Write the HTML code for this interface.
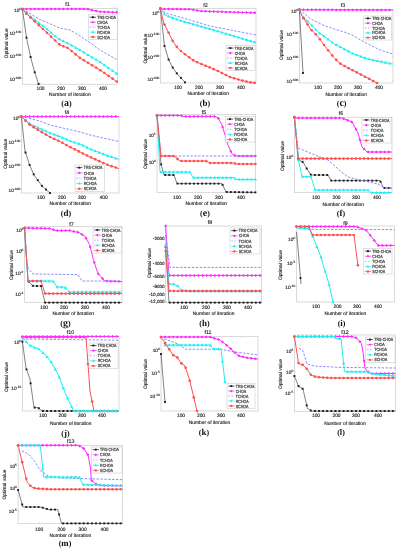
<!DOCTYPE html>
<html><head><meta charset="utf-8"><style>
html,body{margin:0;padding:0;background:#fff;width:400px;height:550px;overflow:hidden}
svg{display:block;will-change:transform}
</style></head><body>
<svg width="400" height="550" viewBox="0 0 400 550">
<rect width="400" height="550" fill="#fff"/>
<g><rect x="22.4" y="8.6" width="95" height="75.6" fill="none" stroke="#c4c4c4" stroke-width="0.6"/><path d="M40.5 84.2v-1.2M40.5 8.6v1.2" stroke="#c4c4c4" stroke-width="0.5"/><text x="0" y="0" transform="translate(40.5 90.1) skewX(0.3)" font-size="4.9" fill="#111" text-anchor="middle" style="font-family:'Liberation Sans',sans-serif;stroke:#222;stroke-width:0.12px">100</text><path d="M61 84.2v-1.2M61 8.6v1.2" stroke="#c4c4c4" stroke-width="0.5"/><text x="0" y="0" transform="translate(61 90.1) skewX(0.3)" font-size="4.9" fill="#111" text-anchor="middle" style="font-family:'Liberation Sans',sans-serif;stroke:#222;stroke-width:0.12px">200</text><path d="M82 84.2v-1.2M82 8.6v1.2" stroke="#c4c4c4" stroke-width="0.5"/><text x="0" y="0" transform="translate(82 90.1) skewX(0.3)" font-size="4.9" fill="#111" text-anchor="middle" style="font-family:'Liberation Sans',sans-serif;stroke:#222;stroke-width:0.12px">300</text><path d="M103 84.2v-1.2M103 8.6v1.2" stroke="#c4c4c4" stroke-width="0.5"/><text x="0" y="0" transform="translate(103 90.1) skewX(0.3)" font-size="4.9" fill="#111" text-anchor="middle" style="font-family:'Liberation Sans',sans-serif;stroke:#222;stroke-width:0.12px">400</text><path d="M22.4 9h1.2M117.4 9h-1.2" stroke="#c4c4c4" stroke-width="0.5"/><text x="0" y="0" transform="translate(21.2 11.5) skewX(0.3)" font-size="4.8" fill="#111" text-anchor="end" style="font-family:'Liberation Sans',sans-serif;stroke:#222;stroke-width:0.12px">10<tspan font-size="3.2" dy="-2">0</tspan></text><path d="M22.4 32.4h1.2M117.4 32.4h-1.2" stroke="#c4c4c4" stroke-width="0.5"/><text x="0" y="0" transform="translate(21.2 34.9) skewX(0.3)" font-size="4.8" fill="#111" text-anchor="end" style="font-family:'Liberation Sans',sans-serif;stroke:#222;stroke-width:0.12px">10<tspan font-size="3.2" dy="-2">-100</tspan></text><path d="M22.4 55.6h1.2M117.4 55.6h-1.2" stroke="#c4c4c4" stroke-width="0.5"/><text x="0" y="0" transform="translate(21.2 58.1) skewX(0.3)" font-size="4.8" fill="#111" text-anchor="end" style="font-family:'Liberation Sans',sans-serif;stroke:#222;stroke-width:0.12px">10<tspan font-size="3.2" dy="-2">-200</tspan></text><path d="M22.4 78.6h1.2M117.4 78.6h-1.2" stroke="#c4c4c4" stroke-width="0.5"/><text x="0" y="0" transform="translate(21.2 81.1) skewX(0.3)" font-size="4.8" fill="#111" text-anchor="end" style="font-family:'Liberation Sans',sans-serif;stroke:#222;stroke-width:0.12px">10<tspan font-size="3.2" dy="-2">-300</tspan></text><text x="0" y="0" transform="translate(67.4 6.3) skewX(0.3)" font-size="5.4" fill="#222" text-anchor="middle" style="font-family:'Liberation Sans',sans-serif;stroke:#222;stroke-width:0.12px">f1</text><text x="0" y="0" transform="translate(69.9 96.4) skewX(0.3)" font-size="4.9" fill="#111" text-anchor="middle" style="font-family:'Liberation Sans',sans-serif;stroke:#222;stroke-width:0.12px">Number of iteration</text><text x="0" y="0" font-size="4.9" fill="#111" text-anchor="middle" style="font-family:'Liberation Sans',sans-serif;stroke:#222;stroke-width:0.12px" transform="translate(8.3 43.2) rotate(-90) skewX(0.3)">Optimal value</text><polyline points="22.4,9 26.6,38.4 30.6,57 34.4,71.4 38.6,84" fill="none" stroke="#1a1a1a" stroke-width="0.55"/><rect x="21.45" y="8.05" width="1.9" height="1.9" fill="#1a1a1a"/><rect x="25.55" y="36.75" width="1.9" height="1.9" fill="#1a1a1a"/><rect x="29.65" y="56.05" width="1.9" height="1.9" fill="#1a1a1a"/><rect x="33.75" y="71.35" width="1.9" height="1.9" fill="#1a1a1a"/><rect x="37.65" y="83.05" width="1.9" height="1.9" fill="#1a1a1a"/><polyline points="22.4,9 88,9 93,10.4 101,11.8 117.4,12.4" fill="none" stroke="#ff2bff" stroke-width="1.0"/><path d="M22.4 7.5l1.55 1.5l-1.55 1.5l-1.55 -1.5z" fill="#ff2bff"/><path d="M26.5 7.5l1.55 1.5l-1.55 1.5l-1.55 -1.5z" fill="#ff2bff"/><path d="M30.6 7.5l1.55 1.5l-1.55 1.5l-1.55 -1.5z" fill="#ff2bff"/><path d="M34.7 7.5l1.55 1.5l-1.55 1.5l-1.55 -1.5z" fill="#ff2bff"/><path d="M38.8 7.5l1.55 1.5l-1.55 1.5l-1.55 -1.5z" fill="#ff2bff"/><path d="M42.9 7.5l1.55 1.5l-1.55 1.5l-1.55 -1.5z" fill="#ff2bff"/><path d="M47 7.5l1.55 1.5l-1.55 1.5l-1.55 -1.5z" fill="#ff2bff"/><path d="M51.1 7.5l1.55 1.5l-1.55 1.5l-1.55 -1.5z" fill="#ff2bff"/><path d="M55.2 7.5l1.55 1.5l-1.55 1.5l-1.55 -1.5z" fill="#ff2bff"/><path d="M59.3 7.5l1.55 1.5l-1.55 1.5l-1.55 -1.5z" fill="#ff2bff"/><path d="M63.4 7.5l1.55 1.5l-1.55 1.5l-1.55 -1.5z" fill="#ff2bff"/><path d="M67.5 7.5l1.55 1.5l-1.55 1.5l-1.55 -1.5z" fill="#ff2bff"/><path d="M71.6 7.5l1.55 1.5l-1.55 1.5l-1.55 -1.5z" fill="#ff2bff"/><path d="M75.7 7.5l1.55 1.5l-1.55 1.5l-1.55 -1.5z" fill="#ff2bff"/><path d="M79.8 7.5l1.55 1.5l-1.55 1.5l-1.55 -1.5z" fill="#ff2bff"/><path d="M83.9 7.5l1.55 1.5l-1.55 1.5l-1.55 -1.5z" fill="#ff2bff"/><path d="M88 7.5l1.55 1.5l-1.55 1.5l-1.55 -1.5z" fill="#ff2bff"/><path d="M92.1 8.65l1.55 1.5l-1.55 1.5l-1.55 -1.5z" fill="#ff2bff"/><path d="M96.2 9.46l1.55 1.5l-1.55 1.5l-1.55 -1.5z" fill="#ff2bff"/><path d="M100.3 10.18l1.55 1.5l-1.55 1.5l-1.55 -1.5z" fill="#ff2bff"/><path d="M104.4 10.42l1.55 1.5l-1.55 1.5l-1.55 -1.5z" fill="#ff2bff"/><path d="M108.5 10.57l1.55 1.5l-1.55 1.5l-1.55 -1.5z" fill="#ff2bff"/><path d="M112.6 10.72l1.55 1.5l-1.55 1.5l-1.55 -1.5z" fill="#ff2bff"/><path d="M116.7 10.87l1.55 1.5l-1.55 1.5l-1.55 -1.5z" fill="#ff2bff"/><polyline points="22.4,9 28,12.4 40,19.5 60,28 70,30 80,36 86,40 100,50 117.4,60" fill="none" stroke="#8a8aff" stroke-width="1.0" stroke-dasharray="2.4 1.5"/><polyline points="22.4,9 26,13.5 32.5,18.1 45,27.5 57.5,38.1 66,42.5 70,44.4 80,50 100,62 117.4,74" fill="none" stroke="#22eef2" stroke-width="1.0"/><path d="M22.4 7.35l1.65 2.8h-3.3z" fill="#22eef2"/><path d="M26.5 12.2l1.65 2.8h-3.3z" fill="#22eef2"/><path d="M30.6 15.11l1.65 2.8h-3.3z" fill="#22eef2"/><path d="M34.7 18.1l1.65 2.8h-3.3z" fill="#22eef2"/><path d="M38.8 21.19l1.65 2.8h-3.3z" fill="#22eef2"/><path d="M42.9 24.27l1.65 2.8h-3.3z" fill="#22eef2"/><path d="M47 27.55l1.65 2.8h-3.3z" fill="#22eef2"/><path d="M51.1 31.02l1.65 2.8h-3.3z" fill="#22eef2"/><path d="M55.2 34.5l1.65 2.8h-3.3z" fill="#22eef2"/><path d="M59.3 37.38l1.65 2.8h-3.3z" fill="#22eef2"/><path d="M63.4 39.5l1.65 2.8h-3.3z" fill="#22eef2"/><path d="M67.5 41.56l1.65 2.8h-3.3z" fill="#22eef2"/><path d="M71.6 43.65l1.65 2.8h-3.3z" fill="#22eef2"/><path d="M75.7 45.94l1.65 2.8h-3.3z" fill="#22eef2"/><path d="M79.8 48.24l1.65 2.8h-3.3z" fill="#22eef2"/><path d="M83.9 50.69l1.65 2.8h-3.3z" fill="#22eef2"/><path d="M88 53.15l1.65 2.8h-3.3z" fill="#22eef2"/><path d="M92.1 55.61l1.65 2.8h-3.3z" fill="#22eef2"/><path d="M96.2 58.07l1.65 2.8h-3.3z" fill="#22eef2"/><path d="M100.3 60.56l1.65 2.8h-3.3z" fill="#22eef2"/><path d="M104.4 63.38l1.65 2.8h-3.3z" fill="#22eef2"/><path d="M108.5 66.21l1.65 2.8h-3.3z" fill="#22eef2"/><path d="M112.6 69.04l1.65 2.8h-3.3z" fill="#22eef2"/><path d="M116.7 71.87l1.65 2.8h-3.3z" fill="#22eef2"/><polyline points="22.4,9 30,17 44,30 60,45 68,48 80,58 100,70 117.4,82" fill="none" stroke="#ff5050" stroke-width="1.0"/><circle cx="22.4" cy="9" r="1.32" fill="#ff5050"/><circle cx="26.5" cy="13.32" r="1.32" fill="#ff5050"/><circle cx="30.6" cy="17.56" r="1.32" fill="#ff5050"/><circle cx="34.7" cy="21.36" r="1.32" fill="#ff5050"/><circle cx="38.8" cy="25.17" r="1.32" fill="#ff5050"/><circle cx="42.9" cy="28.98" r="1.32" fill="#ff5050"/><circle cx="47" cy="32.81" r="1.32" fill="#ff5050"/><circle cx="51.1" cy="36.66" r="1.32" fill="#ff5050"/><circle cx="55.2" cy="40.5" r="1.32" fill="#ff5050"/><circle cx="59.3" cy="44.34" r="1.32" fill="#ff5050"/><circle cx="63.4" cy="46.28" r="1.32" fill="#ff5050"/><circle cx="67.5" cy="47.81" r="1.32" fill="#ff5050"/><circle cx="71.6" cy="51" r="1.32" fill="#ff5050"/><circle cx="75.7" cy="54.42" r="1.32" fill="#ff5050"/><circle cx="79.8" cy="57.83" r="1.32" fill="#ff5050"/><circle cx="83.9" cy="60.34" r="1.32" fill="#ff5050"/><circle cx="88" cy="62.8" r="1.32" fill="#ff5050"/><circle cx="92.1" cy="65.26" r="1.32" fill="#ff5050"/><circle cx="96.2" cy="67.72" r="1.32" fill="#ff5050"/><circle cx="100.3" cy="70.21" r="1.32" fill="#ff5050"/><circle cx="104.4" cy="73.03" r="1.32" fill="#ff5050"/><circle cx="108.5" cy="75.86" r="1.32" fill="#ff5050"/><circle cx="112.6" cy="78.69" r="1.32" fill="#ff5050"/><circle cx="116.7" cy="81.52" r="1.32" fill="#ff5050"/><rect x="88.5" y="14.8" width="28.7" height="24.7" fill="#fff" stroke="#c4c4c4" stroke-width="0.5"/><line x1="89.7" y1="17.27" x2="96" y2="17.27" stroke="#1a1a1a" stroke-width="0.7"/><rect x="91.9" y="16.32" width="1.9" height="1.9" fill="#1a1a1a"/><text x="0" y="0" transform="translate(97.2 18.87) scale(0.82 1) skewX(0.3)" font-size="4.4" fill="#222" style="font-family:'Liberation Sans',sans-serif;stroke:#444;stroke-width:0.22px">TRS-CHOA</text><line x1="89.7" y1="22.21" x2="96" y2="22.21" stroke="#ff2bff" stroke-width="0.7"/><path d="M92.85 20.86l1.4 1.35l-1.4 1.35l-1.4 -1.35z" fill="#ff2bff"/><text x="0" y="0" transform="translate(97.2 23.81) scale(0.82 1) skewX(0.3)" font-size="4.4" fill="#222" style="font-family:'Liberation Sans',sans-serif;stroke:#444;stroke-width:0.22px">CHOA</text><line x1="89.7" y1="27.15" x2="96" y2="27.15" stroke="#8a8aff" stroke-width="0.7" stroke-dasharray="1.6 1.4"/><text x="0" y="0" transform="translate(97.2 28.75) scale(0.82 1) skewX(0.3)" font-size="4.4" fill="#222" style="font-family:'Liberation Sans',sans-serif;stroke:#444;stroke-width:0.22px">TCHOA</text><line x1="89.7" y1="32.09" x2="96" y2="32.09" stroke="#22eef2" stroke-width="0.7"/><path d="M92.85 30.61l1.48 2.52h-2.97z" fill="#22eef2"/><text x="0" y="0" transform="translate(97.2 33.69) scale(0.82 1) skewX(0.3)" font-size="4.4" fill="#222" style="font-family:'Liberation Sans',sans-serif;stroke:#444;stroke-width:0.22px">RCHOA</text><line x1="89.7" y1="37.03" x2="96" y2="37.03" stroke="#ff5050" stroke-width="0.7"/><circle cx="92.85" cy="37.03" r="1.19" fill="#ff5050"/><text x="0" y="0" transform="translate(97.2 38.63) scale(0.82 1) skewX(0.3)" font-size="4.4" fill="#222" style="font-family:'Liberation Sans',sans-serif;stroke:#444;stroke-width:0.22px">SCHOA</text><text x="0" y="0" transform="translate(66.4 106.2) skewX(0.3)" font-size="8.0" fill="#111" text-anchor="middle" font-weight="bold" style="font-family:'Liberation Serif',serif">(<tspan font-size="10">a</tspan>)</text></g>
<g><rect x="160.4" y="8.4" width="95.6" height="74.6" fill="none" stroke="#c4c4c4" stroke-width="0.6"/><path d="M178 83v-1.2M178 8.4v1.2" stroke="#c4c4c4" stroke-width="0.5"/><text x="0" y="0" transform="translate(178 88.9) skewX(0.3)" font-size="4.9" fill="#111" text-anchor="middle" style="font-family:'Liberation Sans',sans-serif;stroke:#222;stroke-width:0.12px">100</text><path d="M199 83v-1.2M199 8.4v1.2" stroke="#c4c4c4" stroke-width="0.5"/><text x="0" y="0" transform="translate(199 88.9) skewX(0.3)" font-size="4.9" fill="#111" text-anchor="middle" style="font-family:'Liberation Sans',sans-serif;stroke:#222;stroke-width:0.12px">200</text><path d="M220 83v-1.2M220 8.4v1.2" stroke="#c4c4c4" stroke-width="0.5"/><text x="0" y="0" transform="translate(220 88.9) skewX(0.3)" font-size="4.9" fill="#111" text-anchor="middle" style="font-family:'Liberation Sans',sans-serif;stroke:#222;stroke-width:0.12px">300</text><path d="M241 83v-1.2M241 8.4v1.2" stroke="#c4c4c4" stroke-width="0.5"/><text x="0" y="0" transform="translate(241 88.9) skewX(0.3)" font-size="4.9" fill="#111" text-anchor="middle" style="font-family:'Liberation Sans',sans-serif;stroke:#222;stroke-width:0.12px">400</text><path d="M160.4 12h1.2M256 12h-1.2" stroke="#c4c4c4" stroke-width="0.5"/><text x="0" y="0" transform="translate(159.2 14.5) skewX(0.3)" font-size="4.8" fill="#111" text-anchor="end" style="font-family:'Liberation Sans',sans-serif;stroke:#222;stroke-width:0.12px">10<tspan font-size="3.2" dy="-2">0</tspan></text><path d="M160.4 34h1.2M256 34h-1.2" stroke="#c4c4c4" stroke-width="0.5"/><text x="0" y="0" transform="translate(159.2 36.5) skewX(0.3)" font-size="4.8" fill="#111" text-anchor="end" style="font-family:'Liberation Sans',sans-serif;stroke:#222;stroke-width:0.12px">10<tspan font-size="3.2" dy="-2">-100</tspan></text><path d="M160.4 56h1.2M256 56h-1.2" stroke="#c4c4c4" stroke-width="0.5"/><text x="0" y="0" transform="translate(159.2 58.5) skewX(0.3)" font-size="4.8" fill="#111" text-anchor="end" style="font-family:'Liberation Sans',sans-serif;stroke:#222;stroke-width:0.12px">10<tspan font-size="3.2" dy="-2">-200</tspan></text><path d="M160.4 78h1.2M256 78h-1.2" stroke="#c4c4c4" stroke-width="0.5"/><text x="0" y="0" transform="translate(159.2 80.5) skewX(0.3)" font-size="4.8" fill="#111" text-anchor="end" style="font-family:'Liberation Sans',sans-serif;stroke:#222;stroke-width:0.12px">10<tspan font-size="3.2" dy="-2">-300</tspan></text><text x="0" y="0" transform="translate(205.4 6.5) skewX(0.3)" font-size="5.4" fill="#222" text-anchor="middle" style="font-family:'Liberation Sans',sans-serif;stroke:#222;stroke-width:0.12px">f2</text><text x="0" y="0" transform="translate(208.2 95.2) skewX(0.3)" font-size="4.9" fill="#111" text-anchor="middle" style="font-family:'Liberation Sans',sans-serif;stroke:#222;stroke-width:0.12px">Number of iteration</text><text x="0" y="0" font-size="4.9" fill="#111" text-anchor="middle" style="font-family:'Liberation Sans',sans-serif;stroke:#222;stroke-width:0.12px" transform="translate(147 48.6) rotate(-90) skewX(0.3)">Optimal value</text><polyline points="160.4,8.4 164.4,45.6 168.6,59.6 172.6,67.4 177,73.6 181,78 185.6,83" fill="none" stroke="#1a1a1a" stroke-width="0.55"/><rect x="159.45" y="7.45" width="1.9" height="1.9" fill="#1a1a1a"/><rect x="163.55" y="44.98" width="1.9" height="1.9" fill="#1a1a1a"/><rect x="167.65" y="58.65" width="1.9" height="1.9" fill="#1a1a1a"/><rect x="171.75" y="66.59" width="1.9" height="1.9" fill="#1a1a1a"/><rect x="175.85" y="72.37" width="1.9" height="1.9" fill="#1a1a1a"/><rect x="179.95" y="76.94" width="1.9" height="1.9" fill="#1a1a1a"/><rect x="184.05" y="81.4" width="1.9" height="1.9" fill="#1a1a1a"/><polyline points="160.4,9 191,9.2 200,11 220,11.8 256,12.8" fill="none" stroke="#ff2bff" stroke-width="1.0"/><path d="M160.4 7.5l1.55 1.5l-1.55 1.5l-1.55 -1.5z" fill="#ff2bff"/><path d="M164.5 7.53l1.55 1.5l-1.55 1.5l-1.55 -1.5z" fill="#ff2bff"/><path d="M168.6 7.55l1.55 1.5l-1.55 1.5l-1.55 -1.5z" fill="#ff2bff"/><path d="M172.7 7.58l1.55 1.5l-1.55 1.5l-1.55 -1.5z" fill="#ff2bff"/><path d="M176.8 7.61l1.55 1.5l-1.55 1.5l-1.55 -1.5z" fill="#ff2bff"/><path d="M180.9 7.63l1.55 1.5l-1.55 1.5l-1.55 -1.5z" fill="#ff2bff"/><path d="M185 7.66l1.55 1.5l-1.55 1.5l-1.55 -1.5z" fill="#ff2bff"/><path d="M189.1 7.69l1.55 1.5l-1.55 1.5l-1.55 -1.5z" fill="#ff2bff"/><path d="M193.2 8.14l1.55 1.5l-1.55 1.5l-1.55 -1.5z" fill="#ff2bff"/><path d="M197.3 8.96l1.55 1.5l-1.55 1.5l-1.55 -1.5z" fill="#ff2bff"/><path d="M201.4 9.56l1.55 1.5l-1.55 1.5l-1.55 -1.5z" fill="#ff2bff"/><path d="M205.5 9.72l1.55 1.5l-1.55 1.5l-1.55 -1.5z" fill="#ff2bff"/><path d="M209.6 9.88l1.55 1.5l-1.55 1.5l-1.55 -1.5z" fill="#ff2bff"/><path d="M213.7 10.05l1.55 1.5l-1.55 1.5l-1.55 -1.5z" fill="#ff2bff"/><path d="M217.8 10.21l1.55 1.5l-1.55 1.5l-1.55 -1.5z" fill="#ff2bff"/><path d="M221.9 10.35l1.55 1.5l-1.55 1.5l-1.55 -1.5z" fill="#ff2bff"/><path d="M226 10.47l1.55 1.5l-1.55 1.5l-1.55 -1.5z" fill="#ff2bff"/><path d="M230.1 10.58l1.55 1.5l-1.55 1.5l-1.55 -1.5z" fill="#ff2bff"/><path d="M234.2 10.69l1.55 1.5l-1.55 1.5l-1.55 -1.5z" fill="#ff2bff"/><path d="M238.3 10.81l1.55 1.5l-1.55 1.5l-1.55 -1.5z" fill="#ff2bff"/><path d="M242.4 10.92l1.55 1.5l-1.55 1.5l-1.55 -1.5z" fill="#ff2bff"/><path d="M246.5 11.04l1.55 1.5l-1.55 1.5l-1.55 -1.5z" fill="#ff2bff"/><path d="M250.6 11.15l1.55 1.5l-1.55 1.5l-1.55 -1.5z" fill="#ff2bff"/><path d="M254.7 11.26l1.55 1.5l-1.55 1.5l-1.55 -1.5z" fill="#ff2bff"/><polyline points="160.4,8.4 165.3,13 190,20 210,26 256,35" fill="none" stroke="#8a8aff" stroke-width="1.0" stroke-dasharray="2.4 1.5"/><polyline points="160.4,8.4 165.3,15.2 179.8,20.3 194.4,24.6 208,28.3 256,42.6" fill="none" stroke="#22eef2" stroke-width="1.0"/><path d="M160.4 6.75l1.65 2.8h-3.3z" fill="#22eef2"/><path d="M164.5 12.44l1.65 2.8h-3.3z" fill="#22eef2"/><path d="M168.6 14.71l1.65 2.8h-3.3z" fill="#22eef2"/><path d="M172.7 16.15l1.65 2.8h-3.3z" fill="#22eef2"/><path d="M176.8 17.59l1.65 2.8h-3.3z" fill="#22eef2"/><path d="M180.9 18.97l1.65 2.8h-3.3z" fill="#22eef2"/><path d="M185 20.18l1.65 2.8h-3.3z" fill="#22eef2"/><path d="M189.1 21.39l1.65 2.8h-3.3z" fill="#22eef2"/><path d="M193.2 22.6l1.65 2.8h-3.3z" fill="#22eef2"/><path d="M197.3 23.74l1.65 2.8h-3.3z" fill="#22eef2"/><path d="M201.4 24.85l1.65 2.8h-3.3z" fill="#22eef2"/><path d="M205.5 25.97l1.65 2.8h-3.3z" fill="#22eef2"/><path d="M209.6 27.13l1.65 2.8h-3.3z" fill="#22eef2"/><path d="M213.7 28.35l1.65 2.8h-3.3z" fill="#22eef2"/><path d="M217.8 29.57l1.65 2.8h-3.3z" fill="#22eef2"/><path d="M221.9 30.79l1.65 2.8h-3.3z" fill="#22eef2"/><path d="M226 32.01l1.65 2.8h-3.3z" fill="#22eef2"/><path d="M230.1 33.23l1.65 2.8h-3.3z" fill="#22eef2"/><path d="M234.2 34.46l1.65 2.8h-3.3z" fill="#22eef2"/><path d="M238.3 35.68l1.65 2.8h-3.3z" fill="#22eef2"/><path d="M242.4 36.9l1.65 2.8h-3.3z" fill="#22eef2"/><path d="M246.5 38.12l1.65 2.8h-3.3z" fill="#22eef2"/><path d="M250.6 39.34l1.65 2.8h-3.3z" fill="#22eef2"/><path d="M254.7 40.56l1.65 2.8h-3.3z" fill="#22eef2"/><polyline points="160.4,8.4 162,16 163.8,23.2 168.2,31.9 172.5,40.6 176,46 179.8,50.1 187.1,55.9 194.4,61 200,63.5 210,67.5 220,72 230,77 240,80 248,82 256,83" fill="none" stroke="#ff5050" stroke-width="1.0"/><circle cx="160.4" cy="8.4" r="1.32" fill="#ff5050"/><circle cx="164.5" cy="24.58" r="1.32" fill="#ff5050"/><circle cx="168.6" cy="32.71" r="1.32" fill="#ff5050"/><circle cx="172.7" cy="40.91" r="1.32" fill="#ff5050"/><circle cx="176.8" cy="46.86" r="1.32" fill="#ff5050"/><circle cx="180.9" cy="50.97" r="1.32" fill="#ff5050"/><circle cx="185" cy="54.23" r="1.32" fill="#ff5050"/><circle cx="189.1" cy="57.3" r="1.32" fill="#ff5050"/><circle cx="193.2" cy="60.16" r="1.32" fill="#ff5050"/><circle cx="197.3" cy="62.29" r="1.32" fill="#ff5050"/><circle cx="201.4" cy="64.06" r="1.32" fill="#ff5050"/><circle cx="205.5" cy="65.7" r="1.32" fill="#ff5050"/><circle cx="209.6" cy="67.34" r="1.32" fill="#ff5050"/><circle cx="213.7" cy="69.16" r="1.32" fill="#ff5050"/><circle cx="217.8" cy="71.01" r="1.32" fill="#ff5050"/><circle cx="221.9" cy="72.95" r="1.32" fill="#ff5050"/><circle cx="226" cy="75" r="1.32" fill="#ff5050"/><circle cx="230.1" cy="77.03" r="1.32" fill="#ff5050"/><circle cx="234.2" cy="78.26" r="1.32" fill="#ff5050"/><circle cx="238.3" cy="79.49" r="1.32" fill="#ff5050"/><circle cx="242.4" cy="80.6" r="1.32" fill="#ff5050"/><circle cx="246.5" cy="81.62" r="1.32" fill="#ff5050"/><circle cx="250.6" cy="82.32" r="1.32" fill="#ff5050"/><circle cx="254.7" cy="82.84" r="1.32" fill="#ff5050"/><rect x="226" y="45.6" width="29" height="24.8" fill="#fff" stroke="#c4c4c4" stroke-width="0.5"/><line x1="227.2" y1="48.08" x2="233.5" y2="48.08" stroke="#1a1a1a" stroke-width="0.7"/><rect x="229.4" y="47.13" width="1.9" height="1.9" fill="#1a1a1a"/><text x="0" y="0" transform="translate(234.7 49.68) scale(0.82 1) skewX(0.3)" font-size="4.4" fill="#222" style="font-family:'Liberation Sans',sans-serif;stroke:#444;stroke-width:0.22px">TRS-CHOA</text><line x1="227.2" y1="53.04" x2="233.5" y2="53.04" stroke="#ff2bff" stroke-width="0.7"/><path d="M230.35 51.69l1.4 1.35l-1.4 1.35l-1.4 -1.35z" fill="#ff2bff"/><text x="0" y="0" transform="translate(234.7 54.64) scale(0.82 1) skewX(0.3)" font-size="4.4" fill="#222" style="font-family:'Liberation Sans',sans-serif;stroke:#444;stroke-width:0.22px">CHOA</text><line x1="227.2" y1="58" x2="233.5" y2="58" stroke="#8a8aff" stroke-width="0.7" stroke-dasharray="1.6 1.4"/><text x="0" y="0" transform="translate(234.7 59.6) scale(0.82 1) skewX(0.3)" font-size="4.4" fill="#222" style="font-family:'Liberation Sans',sans-serif;stroke:#444;stroke-width:0.22px">TCHOA</text><line x1="227.2" y1="62.96" x2="233.5" y2="62.96" stroke="#22eef2" stroke-width="0.7"/><path d="M230.35 61.48l1.48 2.52h-2.97z" fill="#22eef2"/><text x="0" y="0" transform="translate(234.7 64.56) scale(0.82 1) skewX(0.3)" font-size="4.4" fill="#222" style="font-family:'Liberation Sans',sans-serif;stroke:#444;stroke-width:0.22px">RCHOA</text><line x1="227.2" y1="67.92" x2="233.5" y2="67.92" stroke="#ff5050" stroke-width="0.7"/><circle cx="230.35" cy="67.92" r="1.19" fill="#ff5050"/><text x="0" y="0" transform="translate(234.7 69.52) scale(0.82 1) skewX(0.3)" font-size="4.4" fill="#222" style="font-family:'Liberation Sans',sans-serif;stroke:#444;stroke-width:0.22px">SCHOA</text><text x="0" y="0" transform="translate(205 106.2) skewX(0.3)" font-size="8.0" fill="#111" text-anchor="middle" font-weight="bold" style="font-family:'Liberation Serif',serif">(<tspan font-size="9">b</tspan>)</text></g>
<g><rect x="299.4" y="9.4" width="93.6" height="73.6" fill="none" stroke="#c4c4c4" stroke-width="0.6"/><path d="M318 83v-1.2M318 9.4v1.2" stroke="#c4c4c4" stroke-width="0.5"/><text x="0" y="0" transform="translate(318 88.9) skewX(0.3)" font-size="4.9" fill="#111" text-anchor="middle" style="font-family:'Liberation Sans',sans-serif;stroke:#222;stroke-width:0.12px">100</text><path d="M338 83v-1.2M338 9.4v1.2" stroke="#c4c4c4" stroke-width="0.5"/><text x="0" y="0" transform="translate(338 88.9) skewX(0.3)" font-size="4.9" fill="#111" text-anchor="middle" style="font-family:'Liberation Sans',sans-serif;stroke:#222;stroke-width:0.12px">200</text><path d="M358 83v-1.2M358 9.4v1.2" stroke="#c4c4c4" stroke-width="0.5"/><text x="0" y="0" transform="translate(358 88.9) skewX(0.3)" font-size="4.9" fill="#111" text-anchor="middle" style="font-family:'Liberation Sans',sans-serif;stroke:#222;stroke-width:0.12px">300</text><path d="M379 83v-1.2M379 9.4v1.2" stroke="#c4c4c4" stroke-width="0.5"/><text x="0" y="0" transform="translate(379 88.9) skewX(0.3)" font-size="4.9" fill="#111" text-anchor="middle" style="font-family:'Liberation Sans',sans-serif;stroke:#222;stroke-width:0.12px">400</text><path d="M299.4 10h1.2M393 10h-1.2" stroke="#c4c4c4" stroke-width="0.5"/><text x="0" y="0" transform="translate(298.2 12.5) skewX(0.3)" font-size="4.8" fill="#111" text-anchor="end" style="font-family:'Liberation Sans',sans-serif;stroke:#222;stroke-width:0.12px">10<tspan font-size="3.2" dy="-2">0</tspan></text><path d="M299.4 33.6h1.2M393 33.6h-1.2" stroke="#c4c4c4" stroke-width="0.5"/><text x="0" y="0" transform="translate(298.2 36.1) skewX(0.3)" font-size="4.8" fill="#111" text-anchor="end" style="font-family:'Liberation Sans',sans-serif;stroke:#222;stroke-width:0.12px">10<tspan font-size="3.2" dy="-2">-100</tspan></text><path d="M299.4 57.2h1.2M393 57.2h-1.2" stroke="#c4c4c4" stroke-width="0.5"/><text x="0" y="0" transform="translate(298.2 59.7) skewX(0.3)" font-size="4.8" fill="#111" text-anchor="end" style="font-family:'Liberation Sans',sans-serif;stroke:#222;stroke-width:0.12px">10<tspan font-size="3.2" dy="-2">-200</tspan></text><path d="M299.4 80.6h1.2M393 80.6h-1.2" stroke="#c4c4c4" stroke-width="0.5"/><text x="0" y="0" transform="translate(298.2 83.1) skewX(0.3)" font-size="4.8" fill="#111" text-anchor="end" style="font-family:'Liberation Sans',sans-serif;stroke:#222;stroke-width:0.12px">10<tspan font-size="3.2" dy="-2">-300</tspan></text><text x="0" y="0" transform="translate(343 7.4) skewX(0.3)" font-size="5.4" fill="#222" text-anchor="middle" style="font-family:'Liberation Sans',sans-serif;stroke:#222;stroke-width:0.12px">f3</text><text x="0" y="0" transform="translate(346.2 96) skewX(0.3)" font-size="4.9" fill="#111" text-anchor="middle" style="font-family:'Liberation Sans',sans-serif;stroke:#222;stroke-width:0.12px">Number of iteration</text><text x="0" y="0" font-size="4.9" fill="#111" text-anchor="middle" style="font-family:'Liberation Sans',sans-serif;stroke:#222;stroke-width:0.12px" transform="translate(282.7 45) rotate(-90) skewX(0.3)">Optimal value</text><polyline points="299.4,9.6 303,73" fill="none" stroke="#1a1a1a" stroke-width="0.55"/><rect x="298.45" y="8.65" width="1.9" height="1.9" fill="#1a1a1a"/><rect x="302.05" y="72.05" width="1.9" height="1.9" fill="#1a1a1a"/><polyline points="299.4,9.8 393,10" fill="none" stroke="#ff2bff" stroke-width="1.0"/><path d="M299.4 8.3l1.55 1.5l-1.55 1.5l-1.55 -1.5z" fill="#ff2bff"/><path d="M303.5 8.31l1.55 1.5l-1.55 1.5l-1.55 -1.5z" fill="#ff2bff"/><path d="M307.6 8.32l1.55 1.5l-1.55 1.5l-1.55 -1.5z" fill="#ff2bff"/><path d="M311.7 8.33l1.55 1.5l-1.55 1.5l-1.55 -1.5z" fill="#ff2bff"/><path d="M315.8 8.34l1.55 1.5l-1.55 1.5l-1.55 -1.5z" fill="#ff2bff"/><path d="M319.9 8.34l1.55 1.5l-1.55 1.5l-1.55 -1.5z" fill="#ff2bff"/><path d="M324 8.35l1.55 1.5l-1.55 1.5l-1.55 -1.5z" fill="#ff2bff"/><path d="M328.1 8.36l1.55 1.5l-1.55 1.5l-1.55 -1.5z" fill="#ff2bff"/><path d="M332.2 8.37l1.55 1.5l-1.55 1.5l-1.55 -1.5z" fill="#ff2bff"/><path d="M336.3 8.38l1.55 1.5l-1.55 1.5l-1.55 -1.5z" fill="#ff2bff"/><path d="M340.4 8.39l1.55 1.5l-1.55 1.5l-1.55 -1.5z" fill="#ff2bff"/><path d="M344.5 8.4l1.55 1.5l-1.55 1.5l-1.55 -1.5z" fill="#ff2bff"/><path d="M348.6 8.41l1.55 1.5l-1.55 1.5l-1.55 -1.5z" fill="#ff2bff"/><path d="M352.7 8.41l1.55 1.5l-1.55 1.5l-1.55 -1.5z" fill="#ff2bff"/><path d="M356.8 8.42l1.55 1.5l-1.55 1.5l-1.55 -1.5z" fill="#ff2bff"/><path d="M360.9 8.43l1.55 1.5l-1.55 1.5l-1.55 -1.5z" fill="#ff2bff"/><path d="M365 8.44l1.55 1.5l-1.55 1.5l-1.55 -1.5z" fill="#ff2bff"/><path d="M369.1 8.45l1.55 1.5l-1.55 1.5l-1.55 -1.5z" fill="#ff2bff"/><path d="M373.2 8.46l1.55 1.5l-1.55 1.5l-1.55 -1.5z" fill="#ff2bff"/><path d="M377.3 8.47l1.55 1.5l-1.55 1.5l-1.55 -1.5z" fill="#ff2bff"/><path d="M381.4 8.48l1.55 1.5l-1.55 1.5l-1.55 -1.5z" fill="#ff2bff"/><path d="M385.5 8.48l1.55 1.5l-1.55 1.5l-1.55 -1.5z" fill="#ff2bff"/><path d="M389.6 8.49l1.55 1.5l-1.55 1.5l-1.55 -1.5z" fill="#ff2bff"/><polyline points="299.4,9.6 310.5,18.8 325.1,26.1 346,32.6 352,35 364,42 380,50 393,54" fill="none" stroke="#8a8aff" stroke-width="1.0" stroke-dasharray="2.4 1.5"/><polyline points="299.4,9.6 301.8,15.9 310.5,23.9 317.8,31.9 325.1,37 333.8,43.5 339.6,46.5 354,54.1 368,59 382,61.8 393,64" fill="none" stroke="#22eef2" stroke-width="1.0"/><path d="M299.4 7.95l1.65 2.8h-3.3z" fill="#22eef2"/><path d="M303.5 15.81l1.65 2.8h-3.3z" fill="#22eef2"/><path d="M307.6 19.58l1.65 2.8h-3.3z" fill="#22eef2"/><path d="M311.7 23.57l1.65 2.8h-3.3z" fill="#22eef2"/><path d="M315.8 28.06l1.65 2.8h-3.3z" fill="#22eef2"/><path d="M319.9 31.72l1.65 2.8h-3.3z" fill="#22eef2"/><path d="M324 34.58l1.65 2.8h-3.3z" fill="#22eef2"/><path d="M328.1 37.59l1.65 2.8h-3.3z" fill="#22eef2"/><path d="M332.2 40.65l1.65 2.8h-3.3z" fill="#22eef2"/><path d="M336.3 43.14l1.65 2.8h-3.3z" fill="#22eef2"/><path d="M340.4 45.27l1.65 2.8h-3.3z" fill="#22eef2"/><path d="M344.5 47.44l1.65 2.8h-3.3z" fill="#22eef2"/><path d="M348.6 49.6l1.65 2.8h-3.3z" fill="#22eef2"/><path d="M352.7 51.76l1.65 2.8h-3.3z" fill="#22eef2"/><path d="M356.8 53.43l1.65 2.8h-3.3z" fill="#22eef2"/><path d="M360.9 54.87l1.65 2.8h-3.3z" fill="#22eef2"/><path d="M365 56.3l1.65 2.8h-3.3z" fill="#22eef2"/><path d="M369.1 57.57l1.65 2.8h-3.3z" fill="#22eef2"/><path d="M373.2 58.39l1.65 2.8h-3.3z" fill="#22eef2"/><path d="M377.3 59.21l1.65 2.8h-3.3z" fill="#22eef2"/><path d="M381.4 60.03l1.65 2.8h-3.3z" fill="#22eef2"/><path d="M385.5 60.85l1.65 2.8h-3.3z" fill="#22eef2"/><path d="M389.6 61.67l1.65 2.8h-3.3z" fill="#22eef2"/><polyline points="299.4,9.6 302.5,16.6 310.5,29 317.8,36.3 325.1,46.5 333.8,57.4 339.6,63.2 346,66.8 356,72 377,83" fill="none" stroke="#ff5050" stroke-width="1.0"/><circle cx="299.4" cy="9.6" r="1.32" fill="#ff5050"/><circle cx="303.5" cy="18.15" r="1.32" fill="#ff5050"/><circle cx="307.6" cy="24.51" r="1.32" fill="#ff5050"/><circle cx="311.7" cy="30.2" r="1.32" fill="#ff5050"/><circle cx="315.8" cy="34.3" r="1.32" fill="#ff5050"/><circle cx="319.9" cy="39.23" r="1.32" fill="#ff5050"/><circle cx="324" cy="44.96" r="1.32" fill="#ff5050"/><circle cx="328.1" cy="50.26" r="1.32" fill="#ff5050"/><circle cx="332.2" cy="55.4" r="1.32" fill="#ff5050"/><circle cx="336.3" cy="59.9" r="1.32" fill="#ff5050"/><circle cx="340.4" cy="63.65" r="1.32" fill="#ff5050"/><circle cx="344.5" cy="65.96" r="1.32" fill="#ff5050"/><circle cx="348.6" cy="68.15" r="1.32" fill="#ff5050"/><circle cx="352.7" cy="70.28" r="1.32" fill="#ff5050"/><circle cx="356.8" cy="72.42" r="1.32" fill="#ff5050"/><circle cx="360.9" cy="74.57" r="1.32" fill="#ff5050"/><circle cx="365" cy="76.71" r="1.32" fill="#ff5050"/><circle cx="369.1" cy="78.86" r="1.32" fill="#ff5050"/><circle cx="373.2" cy="81.01" r="1.32" fill="#ff5050"/><circle cx="377" cy="83" r="1.32" fill="#ff5050"/><rect x="363.6" y="16" width="28" height="24" fill="#fff" stroke="#c4c4c4" stroke-width="0.5"/><line x1="364.8" y1="18.4" x2="371.1" y2="18.4" stroke="#1a1a1a" stroke-width="0.7"/><rect x="367" y="17.45" width="1.9" height="1.9" fill="#1a1a1a"/><text x="0" y="0" transform="translate(372.3 20) scale(0.82 1) skewX(0.3)" font-size="4.4" fill="#222" style="font-family:'Liberation Sans',sans-serif;stroke:#444;stroke-width:0.22px">TRS-CHOA</text><line x1="364.8" y1="23.2" x2="371.1" y2="23.2" stroke="#ff2bff" stroke-width="0.7"/><path d="M367.95 21.85l1.4 1.35l-1.4 1.35l-1.4 -1.35z" fill="#ff2bff"/><text x="0" y="0" transform="translate(372.3 24.8) scale(0.82 1) skewX(0.3)" font-size="4.4" fill="#222" style="font-family:'Liberation Sans',sans-serif;stroke:#444;stroke-width:0.22px">CHOA</text><line x1="364.8" y1="28" x2="371.1" y2="28" stroke="#8a8aff" stroke-width="0.7" stroke-dasharray="1.6 1.4"/><text x="0" y="0" transform="translate(372.3 29.6) scale(0.82 1) skewX(0.3)" font-size="4.4" fill="#222" style="font-family:'Liberation Sans',sans-serif;stroke:#444;stroke-width:0.22px">TCHOA</text><line x1="364.8" y1="32.8" x2="371.1" y2="32.8" stroke="#22eef2" stroke-width="0.7"/><path d="M367.95 31.31l1.48 2.52h-2.97z" fill="#22eef2"/><text x="0" y="0" transform="translate(372.3 34.4) scale(0.82 1) skewX(0.3)" font-size="4.4" fill="#222" style="font-family:'Liberation Sans',sans-serif;stroke:#444;stroke-width:0.22px">RCHOA</text><line x1="364.8" y1="37.6" x2="371.1" y2="37.6" stroke="#ff5050" stroke-width="0.7"/><circle cx="367.95" cy="37.6" r="1.19" fill="#ff5050"/><text x="0" y="0" transform="translate(372.3 39.2) scale(0.82 1) skewX(0.3)" font-size="4.4" fill="#222" style="font-family:'Liberation Sans',sans-serif;stroke:#444;stroke-width:0.22px">SCHOA</text><text x="0" y="0" transform="translate(341.6 106.2) skewX(0.3)" font-size="8.0" fill="#111" text-anchor="middle" font-weight="bold" style="font-family:'Liberation Serif',serif">(<tspan font-size="10">c</tspan>)</text></g>
<g><rect x="21.4" y="116.4" width="97.6" height="76.6" fill="none" stroke="#c4c4c4" stroke-width="0.6"/><path d="M41 193v-1.2M41 116.4v1.2" stroke="#c4c4c4" stroke-width="0.5"/><text x="0" y="0" transform="translate(41 198.9) skewX(0.3)" font-size="4.9" fill="#111" text-anchor="middle" style="font-family:'Liberation Sans',sans-serif;stroke:#222;stroke-width:0.12px">100</text><path d="M62 193v-1.2M62 116.4v1.2" stroke="#c4c4c4" stroke-width="0.5"/><text x="0" y="0" transform="translate(62 198.9) skewX(0.3)" font-size="4.9" fill="#111" text-anchor="middle" style="font-family:'Liberation Sans',sans-serif;stroke:#222;stroke-width:0.12px">200</text><path d="M82 193v-1.2M82 116.4v1.2" stroke="#c4c4c4" stroke-width="0.5"/><text x="0" y="0" transform="translate(82 198.9) skewX(0.3)" font-size="4.9" fill="#111" text-anchor="middle" style="font-family:'Liberation Sans',sans-serif;stroke:#222;stroke-width:0.12px">300</text><path d="M103.6 193v-1.2M103.6 116.4v1.2" stroke="#c4c4c4" stroke-width="0.5"/><text x="0" y="0" transform="translate(103.6 198.9) skewX(0.3)" font-size="4.9" fill="#111" text-anchor="middle" style="font-family:'Liberation Sans',sans-serif;stroke:#222;stroke-width:0.12px">400</text><path d="M21.4 117.5h1.2M119 117.5h-1.2" stroke="#c4c4c4" stroke-width="0.5"/><text x="0" y="0" transform="translate(20.2 120) skewX(0.3)" font-size="4.8" fill="#111" text-anchor="end" style="font-family:'Liberation Sans',sans-serif;stroke:#222;stroke-width:0.12px">10<tspan font-size="3.2" dy="-2">0</tspan></text><path d="M21.4 141h1.2M119 141h-1.2" stroke="#c4c4c4" stroke-width="0.5"/><text x="0" y="0" transform="translate(20.2 143.5) skewX(0.3)" font-size="4.8" fill="#111" text-anchor="end" style="font-family:'Liberation Sans',sans-serif;stroke:#222;stroke-width:0.12px">10<tspan font-size="3.2" dy="-2">-100</tspan></text><path d="M21.4 165h1.2M119 165h-1.2" stroke="#c4c4c4" stroke-width="0.5"/><text x="0" y="0" transform="translate(20.2 167.5) skewX(0.3)" font-size="4.8" fill="#111" text-anchor="end" style="font-family:'Liberation Sans',sans-serif;stroke:#222;stroke-width:0.12px">10<tspan font-size="3.2" dy="-2">-200</tspan></text><path d="M21.4 189h1.2M119 189h-1.2" stroke="#c4c4c4" stroke-width="0.5"/><text x="0" y="0" transform="translate(20.2 191.5) skewX(0.3)" font-size="4.8" fill="#111" text-anchor="end" style="font-family:'Liberation Sans',sans-serif;stroke:#222;stroke-width:0.12px">10<tspan font-size="3.2" dy="-2">-300</tspan></text><text x="0" y="0" transform="translate(67 114) skewX(0.3)" font-size="5.4" fill="#222" text-anchor="middle" style="font-family:'Liberation Sans',sans-serif;stroke:#222;stroke-width:0.12px">f4</text><text x="0" y="0" transform="translate(70.2 205.2) skewX(0.3)" font-size="4.9" fill="#111" text-anchor="middle" style="font-family:'Liberation Sans',sans-serif;stroke:#222;stroke-width:0.12px">Number of iteration</text><text x="0" y="0" font-size="4.9" fill="#111" text-anchor="middle" style="font-family:'Liberation Sans',sans-serif;stroke:#222;stroke-width:0.12px" transform="translate(6.8 153.7) rotate(-90) skewX(0.3)">Optimal value</text><polyline points="21.4,116.6 25,151 29.6,165 34,175 42,186 50,193" fill="none" stroke="#1a1a1a" stroke-width="0.55"/><rect x="20.45" y="115.65" width="1.9" height="1.9" fill="#1a1a1a"/><rect x="24.55" y="151.57" width="1.9" height="1.9" fill="#1a1a1a"/><rect x="28.65" y="164.05" width="1.9" height="1.9" fill="#1a1a1a"/><rect x="32.75" y="173.37" width="1.9" height="1.9" fill="#1a1a1a"/><rect x="36.85" y="179.28" width="1.9" height="1.9" fill="#1a1a1a"/><rect x="40.95" y="184.91" width="1.9" height="1.9" fill="#1a1a1a"/><rect x="45.05" y="188.55" width="1.9" height="1.9" fill="#1a1a1a"/><rect x="49.05" y="192.05" width="1.9" height="1.9" fill="#1a1a1a"/><polyline points="21.4,116.6 119,116.6" fill="none" stroke="#ff2bff" stroke-width="1.0"/><path d="M21.4 115.1l1.55 1.5l-1.55 1.5l-1.55 -1.5z" fill="#ff2bff"/><path d="M25.5 115.1l1.55 1.5l-1.55 1.5l-1.55 -1.5z" fill="#ff2bff"/><path d="M29.6 115.1l1.55 1.5l-1.55 1.5l-1.55 -1.5z" fill="#ff2bff"/><path d="M33.7 115.1l1.55 1.5l-1.55 1.5l-1.55 -1.5z" fill="#ff2bff"/><path d="M37.8 115.1l1.55 1.5l-1.55 1.5l-1.55 -1.5z" fill="#ff2bff"/><path d="M41.9 115.1l1.55 1.5l-1.55 1.5l-1.55 -1.5z" fill="#ff2bff"/><path d="M46 115.1l1.55 1.5l-1.55 1.5l-1.55 -1.5z" fill="#ff2bff"/><path d="M50.1 115.1l1.55 1.5l-1.55 1.5l-1.55 -1.5z" fill="#ff2bff"/><path d="M54.2 115.1l1.55 1.5l-1.55 1.5l-1.55 -1.5z" fill="#ff2bff"/><path d="M58.3 115.1l1.55 1.5l-1.55 1.5l-1.55 -1.5z" fill="#ff2bff"/><path d="M62.4 115.1l1.55 1.5l-1.55 1.5l-1.55 -1.5z" fill="#ff2bff"/><path d="M66.5 115.1l1.55 1.5l-1.55 1.5l-1.55 -1.5z" fill="#ff2bff"/><path d="M70.6 115.1l1.55 1.5l-1.55 1.5l-1.55 -1.5z" fill="#ff2bff"/><path d="M74.7 115.1l1.55 1.5l-1.55 1.5l-1.55 -1.5z" fill="#ff2bff"/><path d="M78.8 115.1l1.55 1.5l-1.55 1.5l-1.55 -1.5z" fill="#ff2bff"/><path d="M82.9 115.1l1.55 1.5l-1.55 1.5l-1.55 -1.5z" fill="#ff2bff"/><path d="M87 115.1l1.55 1.5l-1.55 1.5l-1.55 -1.5z" fill="#ff2bff"/><path d="M91.1 115.1l1.55 1.5l-1.55 1.5l-1.55 -1.5z" fill="#ff2bff"/><path d="M95.2 115.1l1.55 1.5l-1.55 1.5l-1.55 -1.5z" fill="#ff2bff"/><path d="M99.3 115.1l1.55 1.5l-1.55 1.5l-1.55 -1.5z" fill="#ff2bff"/><path d="M103.4 115.1l1.55 1.5l-1.55 1.5l-1.55 -1.5z" fill="#ff2bff"/><path d="M107.5 115.1l1.55 1.5l-1.55 1.5l-1.55 -1.5z" fill="#ff2bff"/><path d="M111.6 115.1l1.55 1.5l-1.55 1.5l-1.55 -1.5z" fill="#ff2bff"/><path d="M115.7 115.1l1.55 1.5l-1.55 1.5l-1.55 -1.5z" fill="#ff2bff"/><polyline points="21.4,116.6 40,121 50,125 80,132 90,135 119,141.6" fill="none" stroke="#8a8aff" stroke-width="1.0" stroke-dasharray="2.4 1.5"/><polyline points="21.4,116.6 30,124 50,133 60,136.5 70,141 80,144 90,149 106,155 119,159.4" fill="none" stroke="#22eef2" stroke-width="1.0"/><path d="M21.4 114.95l1.65 2.8h-3.3z" fill="#22eef2"/><path d="M25.5 118.48l1.65 2.8h-3.3z" fill="#22eef2"/><path d="M29.6 122.01l1.65 2.8h-3.3z" fill="#22eef2"/><path d="M33.7 124.02l1.65 2.8h-3.3z" fill="#22eef2"/><path d="M37.8 125.86l1.65 2.8h-3.3z" fill="#22eef2"/><path d="M41.9 127.7l1.65 2.8h-3.3z" fill="#22eef2"/><path d="M46 129.55l1.65 2.8h-3.3z" fill="#22eef2"/><path d="M50.1 131.38l1.65 2.8h-3.3z" fill="#22eef2"/><path d="M54.2 132.82l1.65 2.8h-3.3z" fill="#22eef2"/><path d="M58.3 134.25l1.65 2.8h-3.3z" fill="#22eef2"/><path d="M62.4 135.93l1.65 2.8h-3.3z" fill="#22eef2"/><path d="M66.5 137.78l1.65 2.8h-3.3z" fill="#22eef2"/><path d="M70.6 139.53l1.65 2.8h-3.3z" fill="#22eef2"/><path d="M74.7 140.76l1.65 2.8h-3.3z" fill="#22eef2"/><path d="M78.8 141.99l1.65 2.8h-3.3z" fill="#22eef2"/><path d="M82.9 143.8l1.65 2.8h-3.3z" fill="#22eef2"/><path d="M87 145.85l1.65 2.8h-3.3z" fill="#22eef2"/><path d="M91.1 147.76l1.65 2.8h-3.3z" fill="#22eef2"/><path d="M95.2 149.3l1.65 2.8h-3.3z" fill="#22eef2"/><path d="M99.3 150.84l1.65 2.8h-3.3z" fill="#22eef2"/><path d="M103.4 152.37l1.65 2.8h-3.3z" fill="#22eef2"/><path d="M107.5 153.86l1.65 2.8h-3.3z" fill="#22eef2"/><path d="M111.6 155.25l1.65 2.8h-3.3z" fill="#22eef2"/><path d="M115.7 156.63l1.65 2.8h-3.3z" fill="#22eef2"/><polyline points="21.4,116.6 30,125 50,137 60,141.5 70,147 80,152 90,157 108,165 119,168.6" fill="none" stroke="#ff5050" stroke-width="1.0"/><circle cx="21.4" cy="116.6" r="1.32" fill="#ff5050"/><circle cx="25.5" cy="120.6" r="1.32" fill="#ff5050"/><circle cx="29.6" cy="124.61" r="1.32" fill="#ff5050"/><circle cx="33.7" cy="127.22" r="1.32" fill="#ff5050"/><circle cx="37.8" cy="129.68" r="1.32" fill="#ff5050"/><circle cx="41.9" cy="132.14" r="1.32" fill="#ff5050"/><circle cx="46" cy="134.6" r="1.32" fill="#ff5050"/><circle cx="50.1" cy="137.05" r="1.32" fill="#ff5050"/><circle cx="54.2" cy="138.89" r="1.32" fill="#ff5050"/><circle cx="58.3" cy="140.74" r="1.32" fill="#ff5050"/><circle cx="62.4" cy="142.82" r="1.32" fill="#ff5050"/><circle cx="66.5" cy="145.08" r="1.32" fill="#ff5050"/><circle cx="70.6" cy="147.3" r="1.32" fill="#ff5050"/><circle cx="74.7" cy="149.35" r="1.32" fill="#ff5050"/><circle cx="78.8" cy="151.4" r="1.32" fill="#ff5050"/><circle cx="82.9" cy="153.45" r="1.32" fill="#ff5050"/><circle cx="87" cy="155.5" r="1.32" fill="#ff5050"/><circle cx="91.1" cy="157.49" r="1.32" fill="#ff5050"/><circle cx="95.2" cy="159.31" r="1.32" fill="#ff5050"/><circle cx="99.3" cy="161.13" r="1.32" fill="#ff5050"/><circle cx="103.4" cy="162.96" r="1.32" fill="#ff5050"/><circle cx="107.5" cy="164.78" r="1.32" fill="#ff5050"/><circle cx="111.6" cy="166.18" r="1.32" fill="#ff5050"/><circle cx="115.7" cy="167.52" r="1.32" fill="#ff5050"/><rect x="75" y="165" width="29.4" height="26.4" fill="#fff" stroke="#c4c4c4" stroke-width="0.5"/><line x1="76.2" y1="167.64" x2="82.5" y2="167.64" stroke="#1a1a1a" stroke-width="0.7"/><rect x="78.4" y="166.69" width="1.9" height="1.9" fill="#1a1a1a"/><text x="0" y="0" transform="translate(83.7 169.24) scale(0.82 1) skewX(0.3)" font-size="4.4" fill="#222" style="font-family:'Liberation Sans',sans-serif;stroke:#444;stroke-width:0.22px">TRS-CHOA</text><line x1="76.2" y1="172.92" x2="82.5" y2="172.92" stroke="#ff2bff" stroke-width="0.7"/><path d="M79.35 171.57l1.4 1.35l-1.4 1.35l-1.4 -1.35z" fill="#ff2bff"/><text x="0" y="0" transform="translate(83.7 174.52) scale(0.82 1) skewX(0.3)" font-size="4.4" fill="#222" style="font-family:'Liberation Sans',sans-serif;stroke:#444;stroke-width:0.22px">CHOA</text><line x1="76.2" y1="178.2" x2="82.5" y2="178.2" stroke="#8a8aff" stroke-width="0.7" stroke-dasharray="1.6 1.4"/><text x="0" y="0" transform="translate(83.7 179.8) scale(0.82 1) skewX(0.3)" font-size="4.4" fill="#222" style="font-family:'Liberation Sans',sans-serif;stroke:#444;stroke-width:0.22px">TCHOA</text><line x1="76.2" y1="183.48" x2="82.5" y2="183.48" stroke="#22eef2" stroke-width="0.7"/><path d="M79.35 182l1.48 2.52h-2.97z" fill="#22eef2"/><text x="0" y="0" transform="translate(83.7 185.08) scale(0.82 1) skewX(0.3)" font-size="4.4" fill="#222" style="font-family:'Liberation Sans',sans-serif;stroke:#444;stroke-width:0.22px">RCHOA</text><line x1="76.2" y1="188.76" x2="82.5" y2="188.76" stroke="#ff5050" stroke-width="0.7"/><circle cx="79.35" cy="188.76" r="1.19" fill="#ff5050"/><text x="0" y="0" transform="translate(83.7 190.36) scale(0.82 1) skewX(0.3)" font-size="4.4" fill="#222" style="font-family:'Liberation Sans',sans-serif;stroke:#444;stroke-width:0.22px">SCHOA</text><text x="0" y="0" transform="translate(66 216) skewX(0.3)" font-size="8.0" fill="#111" text-anchor="middle" font-weight="bold" style="font-family:'Liberation Serif',serif">(<tspan font-size="9">d</tspan>)</text></g>
<g><rect x="157" y="114.6" width="98.6" height="78" fill="none" stroke="#c4c4c4" stroke-width="0.6"/><path d="M177 192.6v-1.2M177 114.6v1.2" stroke="#c4c4c4" stroke-width="0.5"/><text x="0" y="0" transform="translate(177 198.5) skewX(0.3)" font-size="4.9" fill="#111" text-anchor="middle" style="font-family:'Liberation Sans',sans-serif;stroke:#222;stroke-width:0.12px">100</text><path d="M198 192.6v-1.2M198 114.6v1.2" stroke="#c4c4c4" stroke-width="0.5"/><text x="0" y="0" transform="translate(198 198.5) skewX(0.3)" font-size="4.9" fill="#111" text-anchor="middle" style="font-family:'Liberation Sans',sans-serif;stroke:#222;stroke-width:0.12px">200</text><path d="M219 192.6v-1.2M219 114.6v1.2" stroke="#c4c4c4" stroke-width="0.5"/><text x="0" y="0" transform="translate(219 198.5) skewX(0.3)" font-size="4.9" fill="#111" text-anchor="middle" style="font-family:'Liberation Sans',sans-serif;stroke:#222;stroke-width:0.12px">300</text><path d="M241 192.6v-1.2M241 114.6v1.2" stroke="#c4c4c4" stroke-width="0.5"/><text x="0" y="0" transform="translate(241 198.5) skewX(0.3)" font-size="4.9" fill="#111" text-anchor="middle" style="font-family:'Liberation Sans',sans-serif;stroke:#222;stroke-width:0.12px">400</text><path d="M157 136h1.2M255.6 136h-1.2" stroke="#c4c4c4" stroke-width="0.5"/><text x="0" y="0" transform="translate(155.8 137.3) skewX(0.3)" font-size="4.8" fill="#111" text-anchor="end" style="font-family:'Liberation Sans',sans-serif;stroke:#222;stroke-width:0.12px">10<tspan font-size="3.2" dy="-2">1</tspan></text><path d="M157 163h1.2M255.6 163h-1.2" stroke="#c4c4c4" stroke-width="0.5"/><text x="0" y="0" transform="translate(155.8 164.3) skewX(0.3)" font-size="4.8" fill="#111" text-anchor="end" style="font-family:'Liberation Sans',sans-serif;stroke:#222;stroke-width:0.12px">10<tspan font-size="3.2" dy="-2">0</tspan></text><text x="0" y="0" transform="translate(204 114.2) skewX(0.3)" font-size="5.4" fill="#222" text-anchor="middle" style="font-family:'Liberation Sans',sans-serif;stroke:#222;stroke-width:0.12px">f5</text><text x="0" y="0" transform="translate(206.3 204.8) skewX(0.3)" font-size="4.9" fill="#111" text-anchor="middle" style="font-family:'Liberation Sans',sans-serif;stroke:#222;stroke-width:0.12px">Number of iteration</text><text x="0" y="0" font-size="4.9" fill="#111" text-anchor="middle" style="font-family:'Liberation Sans',sans-serif;stroke:#222;stroke-width:0.12px" transform="translate(146.7 154) rotate(-90) skewX(0.3)">Optimal value</text><polyline points="157,115.4 161,164 164,175 174,175 177,183.6 222,183.6 226,192 255.6,192.4" fill="none" stroke="#1a1a1a" stroke-width="0.55"/><rect x="156.05" y="114.45" width="1.9" height="1.9" fill="#1a1a1a"/><rect x="160.15" y="163.42" width="1.9" height="1.9" fill="#1a1a1a"/><rect x="164.25" y="174.05" width="1.9" height="1.9" fill="#1a1a1a"/><rect x="168.35" y="174.05" width="1.9" height="1.9" fill="#1a1a1a"/><rect x="172.45" y="174.05" width="1.9" height="1.9" fill="#1a1a1a"/><rect x="176.55" y="182.65" width="1.9" height="1.9" fill="#1a1a1a"/><rect x="180.65" y="182.65" width="1.9" height="1.9" fill="#1a1a1a"/><rect x="184.75" y="182.65" width="1.9" height="1.9" fill="#1a1a1a"/><rect x="188.85" y="182.65" width="1.9" height="1.9" fill="#1a1a1a"/><rect x="192.95" y="182.65" width="1.9" height="1.9" fill="#1a1a1a"/><rect x="197.05" y="182.65" width="1.9" height="1.9" fill="#1a1a1a"/><rect x="201.15" y="182.65" width="1.9" height="1.9" fill="#1a1a1a"/><rect x="205.25" y="182.65" width="1.9" height="1.9" fill="#1a1a1a"/><rect x="209.35" y="182.65" width="1.9" height="1.9" fill="#1a1a1a"/><rect x="213.45" y="182.65" width="1.9" height="1.9" fill="#1a1a1a"/><rect x="217.55" y="182.65" width="1.9" height="1.9" fill="#1a1a1a"/><rect x="221.65" y="183.91" width="1.9" height="1.9" fill="#1a1a1a"/><rect x="225.75" y="191.06" width="1.9" height="1.9" fill="#1a1a1a"/><rect x="229.85" y="191.11" width="1.9" height="1.9" fill="#1a1a1a"/><rect x="233.95" y="191.17" width="1.9" height="1.9" fill="#1a1a1a"/><rect x="238.05" y="191.23" width="1.9" height="1.9" fill="#1a1a1a"/><rect x="242.15" y="191.28" width="1.9" height="1.9" fill="#1a1a1a"/><rect x="246.25" y="191.34" width="1.9" height="1.9" fill="#1a1a1a"/><rect x="250.35" y="191.39" width="1.9" height="1.9" fill="#1a1a1a"/><rect x="254.45" y="191.45" width="1.9" height="1.9" fill="#1a1a1a"/><polyline points="157,115.4 181,115.4 183,116.4 208,116.4 214,116.4 218,117.6 222,125 228,145 232,154 236,156 255.6,156" fill="none" stroke="#ff2bff" stroke-width="1.0"/><path d="M157 113.9l1.55 1.5l-1.55 1.5l-1.55 -1.5z" fill="#ff2bff"/><path d="M161.1 113.9l1.55 1.5l-1.55 1.5l-1.55 -1.5z" fill="#ff2bff"/><path d="M165.2 113.9l1.55 1.5l-1.55 1.5l-1.55 -1.5z" fill="#ff2bff"/><path d="M169.3 113.9l1.55 1.5l-1.55 1.5l-1.55 -1.5z" fill="#ff2bff"/><path d="M173.4 113.9l1.55 1.5l-1.55 1.5l-1.55 -1.5z" fill="#ff2bff"/><path d="M177.5 113.9l1.55 1.5l-1.55 1.5l-1.55 -1.5z" fill="#ff2bff"/><path d="M181.6 114.2l1.55 1.5l-1.55 1.5l-1.55 -1.5z" fill="#ff2bff"/><path d="M185.7 114.9l1.55 1.5l-1.55 1.5l-1.55 -1.5z" fill="#ff2bff"/><path d="M189.8 114.9l1.55 1.5l-1.55 1.5l-1.55 -1.5z" fill="#ff2bff"/><path d="M193.9 114.9l1.55 1.5l-1.55 1.5l-1.55 -1.5z" fill="#ff2bff"/><path d="M198 114.9l1.55 1.5l-1.55 1.5l-1.55 -1.5z" fill="#ff2bff"/><path d="M202.1 114.9l1.55 1.5l-1.55 1.5l-1.55 -1.5z" fill="#ff2bff"/><path d="M206.2 114.9l1.55 1.5l-1.55 1.5l-1.55 -1.5z" fill="#ff2bff"/><path d="M210.3 114.9l1.55 1.5l-1.55 1.5l-1.55 -1.5z" fill="#ff2bff"/><path d="M214.4 115.02l1.55 1.5l-1.55 1.5l-1.55 -1.5z" fill="#ff2bff"/><path d="M218.5 117.02l1.55 1.5l-1.55 1.5l-1.55 -1.5z" fill="#ff2bff"/><path d="M222.6 125.5l1.55 1.5l-1.55 1.5l-1.55 -1.5z" fill="#ff2bff"/><path d="M226.7 139.17l1.55 1.5l-1.55 1.5l-1.55 -1.5z" fill="#ff2bff"/><path d="M230.8 149.8l1.55 1.5l-1.55 1.5l-1.55 -1.5z" fill="#ff2bff"/><path d="M234.9 153.95l1.55 1.5l-1.55 1.5l-1.55 -1.5z" fill="#ff2bff"/><path d="M239 154.5l1.55 1.5l-1.55 1.5l-1.55 -1.5z" fill="#ff2bff"/><path d="M243.1 154.5l1.55 1.5l-1.55 1.5l-1.55 -1.5z" fill="#ff2bff"/><path d="M247.2 154.5l1.55 1.5l-1.55 1.5l-1.55 -1.5z" fill="#ff2bff"/><path d="M251.3 154.5l1.55 1.5l-1.55 1.5l-1.55 -1.5z" fill="#ff2bff"/><path d="M255.4 154.5l1.55 1.5l-1.55 1.5l-1.55 -1.5z" fill="#ff2bff"/><polyline points="157,115.4 161,156 255.6,156" fill="none" stroke="#8a8aff" stroke-width="1.0" stroke-dasharray="2.4 1.5"/><polyline points="157,115.4 160,172 190,172 193,177.6 234,177.6 236,179.4 255.6,179.4" fill="none" stroke="#22eef2" stroke-width="1.0"/><path d="M157 113.75l1.65 2.8h-3.3z" fill="#22eef2"/><path d="M161.1 170.35l1.65 2.8h-3.3z" fill="#22eef2"/><path d="M165.2 170.35l1.65 2.8h-3.3z" fill="#22eef2"/><path d="M169.3 170.35l1.65 2.8h-3.3z" fill="#22eef2"/><path d="M173.4 170.35l1.65 2.8h-3.3z" fill="#22eef2"/><path d="M177.5 170.35l1.65 2.8h-3.3z" fill="#22eef2"/><path d="M181.6 170.35l1.65 2.8h-3.3z" fill="#22eef2"/><path d="M185.7 170.35l1.65 2.8h-3.3z" fill="#22eef2"/><path d="M189.8 170.35l1.65 2.8h-3.3z" fill="#22eef2"/><path d="M193.9 175.95l1.65 2.8h-3.3z" fill="#22eef2"/><path d="M198 175.95l1.65 2.8h-3.3z" fill="#22eef2"/><path d="M202.1 175.95l1.65 2.8h-3.3z" fill="#22eef2"/><path d="M206.2 175.95l1.65 2.8h-3.3z" fill="#22eef2"/><path d="M210.3 175.95l1.65 2.8h-3.3z" fill="#22eef2"/><path d="M214.4 175.95l1.65 2.8h-3.3z" fill="#22eef2"/><path d="M218.5 175.95l1.65 2.8h-3.3z" fill="#22eef2"/><path d="M222.6 175.95l1.65 2.8h-3.3z" fill="#22eef2"/><path d="M226.7 175.95l1.65 2.8h-3.3z" fill="#22eef2"/><path d="M230.8 175.95l1.65 2.8h-3.3z" fill="#22eef2"/><path d="M234.9 176.76l1.65 2.8h-3.3z" fill="#22eef2"/><path d="M239 177.75l1.65 2.8h-3.3z" fill="#22eef2"/><path d="M243.1 177.75l1.65 2.8h-3.3z" fill="#22eef2"/><path d="M247.2 177.75l1.65 2.8h-3.3z" fill="#22eef2"/><path d="M251.3 177.75l1.65 2.8h-3.3z" fill="#22eef2"/><path d="M255.4 177.75l1.65 2.8h-3.3z" fill="#22eef2"/><polyline points="157,115.4 161,156 174,156 180,161 206,161 210,163 234,163 236,164 255.6,164" fill="none" stroke="#ff5050" stroke-width="1.0"/><circle cx="157" cy="115.4" r="1.32" fill="#ff5050"/><circle cx="161.1" cy="156" r="1.32" fill="#ff5050"/><circle cx="165.2" cy="156" r="1.32" fill="#ff5050"/><circle cx="169.3" cy="156" r="1.32" fill="#ff5050"/><circle cx="173.4" cy="156" r="1.32" fill="#ff5050"/><circle cx="177.5" cy="158.92" r="1.32" fill="#ff5050"/><circle cx="181.6" cy="161" r="1.32" fill="#ff5050"/><circle cx="185.7" cy="161" r="1.32" fill="#ff5050"/><circle cx="189.8" cy="161" r="1.32" fill="#ff5050"/><circle cx="193.9" cy="161" r="1.32" fill="#ff5050"/><circle cx="198" cy="161" r="1.32" fill="#ff5050"/><circle cx="202.1" cy="161" r="1.32" fill="#ff5050"/><circle cx="206.2" cy="161.1" r="1.32" fill="#ff5050"/><circle cx="210.3" cy="163" r="1.32" fill="#ff5050"/><circle cx="214.4" cy="163" r="1.32" fill="#ff5050"/><circle cx="218.5" cy="163" r="1.32" fill="#ff5050"/><circle cx="222.6" cy="163" r="1.32" fill="#ff5050"/><circle cx="226.7" cy="163" r="1.32" fill="#ff5050"/><circle cx="230.8" cy="163" r="1.32" fill="#ff5050"/><circle cx="234.9" cy="163.45" r="1.32" fill="#ff5050"/><circle cx="239" cy="164" r="1.32" fill="#ff5050"/><circle cx="243.1" cy="164" r="1.32" fill="#ff5050"/><circle cx="247.2" cy="164" r="1.32" fill="#ff5050"/><circle cx="251.3" cy="164" r="1.32" fill="#ff5050"/><circle cx="255.4" cy="164" r="1.32" fill="#ff5050"/><rect x="225.6" y="116.6" width="29.4" height="25.4" fill="#fff" stroke="#c4c4c4" stroke-width="0.5"/><line x1="226.8" y1="119.14" x2="233.1" y2="119.14" stroke="#1a1a1a" stroke-width="0.7"/><rect x="229" y="118.19" width="1.9" height="1.9" fill="#1a1a1a"/><text x="0" y="0" transform="translate(234.3 120.74) scale(0.82 1) skewX(0.3)" font-size="4.4" fill="#222" style="font-family:'Liberation Sans',sans-serif;stroke:#444;stroke-width:0.22px">TRS-CHOA</text><line x1="226.8" y1="124.22" x2="233.1" y2="124.22" stroke="#ff2bff" stroke-width="0.7"/><path d="M229.95 122.87l1.4 1.35l-1.4 1.35l-1.4 -1.35z" fill="#ff2bff"/><text x="0" y="0" transform="translate(234.3 125.82) scale(0.82 1) skewX(0.3)" font-size="4.4" fill="#222" style="font-family:'Liberation Sans',sans-serif;stroke:#444;stroke-width:0.22px">CHOA</text><line x1="226.8" y1="129.3" x2="233.1" y2="129.3" stroke="#8a8aff" stroke-width="0.7" stroke-dasharray="1.6 1.4"/><text x="0" y="0" transform="translate(234.3 130.9) scale(0.82 1) skewX(0.3)" font-size="4.4" fill="#222" style="font-family:'Liberation Sans',sans-serif;stroke:#444;stroke-width:0.22px">TCHOA</text><line x1="226.8" y1="134.38" x2="233.1" y2="134.38" stroke="#22eef2" stroke-width="0.7"/><path d="M229.95 132.89l1.48 2.52h-2.97z" fill="#22eef2"/><text x="0" y="0" transform="translate(234.3 135.98) scale(0.82 1) skewX(0.3)" font-size="4.4" fill="#222" style="font-family:'Liberation Sans',sans-serif;stroke:#444;stroke-width:0.22px">RCHOA</text><line x1="226.8" y1="139.46" x2="233.1" y2="139.46" stroke="#ff5050" stroke-width="0.7"/><circle cx="229.95" cy="139.46" r="1.19" fill="#ff5050"/><text x="0" y="0" transform="translate(234.3 141.06) scale(0.82 1) skewX(0.3)" font-size="4.4" fill="#222" style="font-family:'Liberation Sans',sans-serif;stroke:#444;stroke-width:0.22px">SCHOA</text><text x="0" y="0" transform="translate(205 216.2) skewX(0.3)" font-size="8.0" fill="#111" text-anchor="middle" font-weight="bold" style="font-family:'Liberation Serif',serif">(<tspan font-size="10">e</tspan>)</text></g>
<g><rect x="294.4" y="117.2" width="97.6" height="75.4" fill="none" stroke="#c4c4c4" stroke-width="0.6"/><path d="M316 192.6v-1.2M316 117.2v1.2" stroke="#c4c4c4" stroke-width="0.5"/><text x="0" y="0" transform="translate(316 198.5) skewX(0.3)" font-size="4.9" fill="#111" text-anchor="middle" style="font-family:'Liberation Sans',sans-serif;stroke:#222;stroke-width:0.12px">100</text><path d="M336.5 192.6v-1.2M336.5 117.2v1.2" stroke="#c4c4c4" stroke-width="0.5"/><text x="0" y="0" transform="translate(336.5 198.5) skewX(0.3)" font-size="4.9" fill="#111" text-anchor="middle" style="font-family:'Liberation Sans',sans-serif;stroke:#222;stroke-width:0.12px">200</text><path d="M356 192.6v-1.2M356 117.2v1.2" stroke="#c4c4c4" stroke-width="0.5"/><text x="0" y="0" transform="translate(356 198.5) skewX(0.3)" font-size="4.9" fill="#111" text-anchor="middle" style="font-family:'Liberation Sans',sans-serif;stroke:#222;stroke-width:0.12px">300</text><path d="M377 192.6v-1.2M377 117.2v1.2" stroke="#c4c4c4" stroke-width="0.5"/><text x="0" y="0" transform="translate(377 198.5) skewX(0.3)" font-size="4.9" fill="#111" text-anchor="middle" style="font-family:'Liberation Sans',sans-serif;stroke:#222;stroke-width:0.12px">400</text><path d="M294.4 156.6h1.2M392 156.6h-1.2" stroke="#c4c4c4" stroke-width="0.5"/><text x="0" y="0" transform="translate(293.2 159.1) skewX(0.3)" font-size="4.8" fill="#111" text-anchor="end" style="font-family:'Liberation Sans',sans-serif;stroke:#222;stroke-width:0.12px">10<tspan font-size="3.2" dy="-2">0</tspan></text><text x="0" y="0" transform="translate(341 114.8) skewX(0.3)" font-size="5.4" fill="#222" text-anchor="middle" style="font-family:'Liberation Sans',sans-serif;stroke:#222;stroke-width:0.12px">f6</text><text x="0" y="0" transform="translate(343.2 205.8) skewX(0.3)" font-size="4.9" fill="#111" text-anchor="middle" style="font-family:'Liberation Sans',sans-serif;stroke:#222;stroke-width:0.12px">Number of iteration</text><text x="0" y="0" font-size="4.9" fill="#111" text-anchor="middle" style="font-family:'Liberation Sans',sans-serif;stroke:#222;stroke-width:0.12px" transform="translate(284.1 156) rotate(-90) skewX(0.3)">Optimal value</text><polyline points="294.4,117 298.6,160 303,162 307,169 311,175 328,175 331,180.6 380,180.6 383.6,188 392,188" fill="none" stroke="#1a1a1a" stroke-width="0.55"/><rect x="293.45" y="116.05" width="1.9" height="1.9" fill="#1a1a1a"/><rect x="297.55" y="158.03" width="1.9" height="1.9" fill="#1a1a1a"/><rect x="301.65" y="160.87" width="1.9" height="1.9" fill="#1a1a1a"/><rect x="305.75" y="167.53" width="1.9" height="1.9" fill="#1a1a1a"/><rect x="309.85" y="173.75" width="1.9" height="1.9" fill="#1a1a1a"/><rect x="313.95" y="174.05" width="1.9" height="1.9" fill="#1a1a1a"/><rect x="318.05" y="174.05" width="1.9" height="1.9" fill="#1a1a1a"/><rect x="322.15" y="174.05" width="1.9" height="1.9" fill="#1a1a1a"/><rect x="326.25" y="174.05" width="1.9" height="1.9" fill="#1a1a1a"/><rect x="330.35" y="179.65" width="1.9" height="1.9" fill="#1a1a1a"/><rect x="334.45" y="179.65" width="1.9" height="1.9" fill="#1a1a1a"/><rect x="338.55" y="179.65" width="1.9" height="1.9" fill="#1a1a1a"/><rect x="342.65" y="179.65" width="1.9" height="1.9" fill="#1a1a1a"/><rect x="346.75" y="179.65" width="1.9" height="1.9" fill="#1a1a1a"/><rect x="350.85" y="179.65" width="1.9" height="1.9" fill="#1a1a1a"/><rect x="354.95" y="179.65" width="1.9" height="1.9" fill="#1a1a1a"/><rect x="359.05" y="179.65" width="1.9" height="1.9" fill="#1a1a1a"/><rect x="363.15" y="179.65" width="1.9" height="1.9" fill="#1a1a1a"/><rect x="367.25" y="179.65" width="1.9" height="1.9" fill="#1a1a1a"/><rect x="371.35" y="179.65" width="1.9" height="1.9" fill="#1a1a1a"/><rect x="375.45" y="179.65" width="1.9" height="1.9" fill="#1a1a1a"/><rect x="379.55" y="180.68" width="1.9" height="1.9" fill="#1a1a1a"/><rect x="383.65" y="187.05" width="1.9" height="1.9" fill="#1a1a1a"/><rect x="387.75" y="187.05" width="1.9" height="1.9" fill="#1a1a1a"/><polyline points="294.4,118 342,118 352,122 358,133 362,147 367,152 392,152" fill="none" stroke="#ff2bff" stroke-width="1.0"/><path d="M294.4 116.5l1.55 1.5l-1.55 1.5l-1.55 -1.5z" fill="#ff2bff"/><path d="M298.5 116.5l1.55 1.5l-1.55 1.5l-1.55 -1.5z" fill="#ff2bff"/><path d="M302.6 116.5l1.55 1.5l-1.55 1.5l-1.55 -1.5z" fill="#ff2bff"/><path d="M306.7 116.5l1.55 1.5l-1.55 1.5l-1.55 -1.5z" fill="#ff2bff"/><path d="M310.8 116.5l1.55 1.5l-1.55 1.5l-1.55 -1.5z" fill="#ff2bff"/><path d="M314.9 116.5l1.55 1.5l-1.55 1.5l-1.55 -1.5z" fill="#ff2bff"/><path d="M319 116.5l1.55 1.5l-1.55 1.5l-1.55 -1.5z" fill="#ff2bff"/><path d="M323.1 116.5l1.55 1.5l-1.55 1.5l-1.55 -1.5z" fill="#ff2bff"/><path d="M327.2 116.5l1.55 1.5l-1.55 1.5l-1.55 -1.5z" fill="#ff2bff"/><path d="M331.3 116.5l1.55 1.5l-1.55 1.5l-1.55 -1.5z" fill="#ff2bff"/><path d="M335.4 116.5l1.55 1.5l-1.55 1.5l-1.55 -1.5z" fill="#ff2bff"/><path d="M339.5 116.5l1.55 1.5l-1.55 1.5l-1.55 -1.5z" fill="#ff2bff"/><path d="M343.6 117.14l1.55 1.5l-1.55 1.5l-1.55 -1.5z" fill="#ff2bff"/><path d="M347.7 118.78l1.55 1.5l-1.55 1.5l-1.55 -1.5z" fill="#ff2bff"/><path d="M351.8 120.42l1.55 1.5l-1.55 1.5l-1.55 -1.5z" fill="#ff2bff"/><path d="M355.9 127.65l1.55 1.5l-1.55 1.5l-1.55 -1.5z" fill="#ff2bff"/><path d="M360 138.5l1.55 1.5l-1.55 1.5l-1.55 -1.5z" fill="#ff2bff"/><path d="M364.1 147.6l1.55 1.5l-1.55 1.5l-1.55 -1.5z" fill="#ff2bff"/><path d="M368.2 150.5l1.55 1.5l-1.55 1.5l-1.55 -1.5z" fill="#ff2bff"/><path d="M372.3 150.5l1.55 1.5l-1.55 1.5l-1.55 -1.5z" fill="#ff2bff"/><path d="M376.4 150.5l1.55 1.5l-1.55 1.5l-1.55 -1.5z" fill="#ff2bff"/><path d="M380.5 150.5l1.55 1.5l-1.55 1.5l-1.55 -1.5z" fill="#ff2bff"/><path d="M384.6 150.5l1.55 1.5l-1.55 1.5l-1.55 -1.5z" fill="#ff2bff"/><path d="M388.7 150.5l1.55 1.5l-1.55 1.5l-1.55 -1.5z" fill="#ff2bff"/><polyline points="294.4,117 298,148 310,153 320,157 328,160 336,167 340,171 348,177 364,181 378,184 384,188 392,188.6" fill="none" stroke="#8a8aff" stroke-width="1.0" stroke-dasharray="2.4 1.5"/><polyline points="294.4,117 298.6,161 302,176.6 311,176.6 315,190 368,190 371,192.6 392,192.6" fill="none" stroke="#22eef2" stroke-width="1.0"/><path d="M294.4 115.35l1.65 2.8h-3.3z" fill="#22eef2"/><path d="M298.5 158.3l1.65 2.8h-3.3z" fill="#22eef2"/><path d="M302.6 174.95l1.65 2.8h-3.3z" fill="#22eef2"/><path d="M306.7 174.95l1.65 2.8h-3.3z" fill="#22eef2"/><path d="M310.8 174.95l1.65 2.8h-3.3z" fill="#22eef2"/><path d="M314.9 188.02l1.65 2.8h-3.3z" fill="#22eef2"/><path d="M319 188.35l1.65 2.8h-3.3z" fill="#22eef2"/><path d="M323.1 188.35l1.65 2.8h-3.3z" fill="#22eef2"/><path d="M327.2 188.35l1.65 2.8h-3.3z" fill="#22eef2"/><path d="M331.3 188.35l1.65 2.8h-3.3z" fill="#22eef2"/><path d="M335.4 188.35l1.65 2.8h-3.3z" fill="#22eef2"/><path d="M339.5 188.35l1.65 2.8h-3.3z" fill="#22eef2"/><path d="M343.6 188.35l1.65 2.8h-3.3z" fill="#22eef2"/><path d="M347.7 188.35l1.65 2.8h-3.3z" fill="#22eef2"/><path d="M351.8 188.35l1.65 2.8h-3.3z" fill="#22eef2"/><path d="M355.9 188.35l1.65 2.8h-3.3z" fill="#22eef2"/><path d="M360 188.35l1.65 2.8h-3.3z" fill="#22eef2"/><path d="M364.1 188.35l1.65 2.8h-3.3z" fill="#22eef2"/><path d="M368.2 188.52l1.65 2.8h-3.3z" fill="#22eef2"/><path d="M372.3 190.95l1.65 2.8h-3.3z" fill="#22eef2"/><path d="M376.4 190.95l1.65 2.8h-3.3z" fill="#22eef2"/><path d="M380.5 190.95l1.65 2.8h-3.3z" fill="#22eef2"/><path d="M384.6 190.95l1.65 2.8h-3.3z" fill="#22eef2"/><path d="M388.7 190.95l1.65 2.8h-3.3z" fill="#22eef2"/><polyline points="294.4,117 298,158.6 392,158.6" fill="none" stroke="#ff5050" stroke-width="1.0"/><circle cx="294.4" cy="117" r="1.32" fill="#ff5050"/><circle cx="298.5" cy="158.6" r="1.32" fill="#ff5050"/><circle cx="302.6" cy="158.6" r="1.32" fill="#ff5050"/><circle cx="306.7" cy="158.6" r="1.32" fill="#ff5050"/><circle cx="310.8" cy="158.6" r="1.32" fill="#ff5050"/><circle cx="314.9" cy="158.6" r="1.32" fill="#ff5050"/><circle cx="319" cy="158.6" r="1.32" fill="#ff5050"/><circle cx="323.1" cy="158.6" r="1.32" fill="#ff5050"/><circle cx="327.2" cy="158.6" r="1.32" fill="#ff5050"/><circle cx="331.3" cy="158.6" r="1.32" fill="#ff5050"/><circle cx="335.4" cy="158.6" r="1.32" fill="#ff5050"/><circle cx="339.5" cy="158.6" r="1.32" fill="#ff5050"/><circle cx="343.6" cy="158.6" r="1.32" fill="#ff5050"/><circle cx="347.7" cy="158.6" r="1.32" fill="#ff5050"/><circle cx="351.8" cy="158.6" r="1.32" fill="#ff5050"/><circle cx="355.9" cy="158.6" r="1.32" fill="#ff5050"/><circle cx="360" cy="158.6" r="1.32" fill="#ff5050"/><circle cx="364.1" cy="158.6" r="1.32" fill="#ff5050"/><circle cx="368.2" cy="158.6" r="1.32" fill="#ff5050"/><circle cx="372.3" cy="158.6" r="1.32" fill="#ff5050"/><circle cx="376.4" cy="158.6" r="1.32" fill="#ff5050"/><circle cx="380.5" cy="158.6" r="1.32" fill="#ff5050"/><circle cx="384.6" cy="158.6" r="1.32" fill="#ff5050"/><circle cx="388.7" cy="158.6" r="1.32" fill="#ff5050"/><rect x="362" y="117.4" width="29" height="25.6" fill="#fff" stroke="#c4c4c4" stroke-width="0.5"/><line x1="363.2" y1="119.96" x2="369.5" y2="119.96" stroke="#1a1a1a" stroke-width="0.7"/><rect x="365.4" y="119.01" width="1.9" height="1.9" fill="#1a1a1a"/><text x="0" y="0" transform="translate(370.7 121.56) scale(0.82 1) skewX(0.3)" font-size="4.4" fill="#222" style="font-family:'Liberation Sans',sans-serif;stroke:#444;stroke-width:0.22px">TRS-CHOA</text><line x1="363.2" y1="125.08" x2="369.5" y2="125.08" stroke="#ff2bff" stroke-width="0.7"/><path d="M366.35 123.73l1.4 1.35l-1.4 1.35l-1.4 -1.35z" fill="#ff2bff"/><text x="0" y="0" transform="translate(370.7 126.68) scale(0.82 1) skewX(0.3)" font-size="4.4" fill="#222" style="font-family:'Liberation Sans',sans-serif;stroke:#444;stroke-width:0.22px">CHOA</text><line x1="363.2" y1="130.2" x2="369.5" y2="130.2" stroke="#8a8aff" stroke-width="0.7" stroke-dasharray="1.6 1.4"/><text x="0" y="0" transform="translate(370.7 131.8) scale(0.82 1) skewX(0.3)" font-size="4.4" fill="#222" style="font-family:'Liberation Sans',sans-serif;stroke:#444;stroke-width:0.22px">TCHOA</text><line x1="363.2" y1="135.32" x2="369.5" y2="135.32" stroke="#22eef2" stroke-width="0.7"/><path d="M366.35 133.83l1.48 2.52h-2.97z" fill="#22eef2"/><text x="0" y="0" transform="translate(370.7 136.92) scale(0.82 1) skewX(0.3)" font-size="4.4" fill="#222" style="font-family:'Liberation Sans',sans-serif;stroke:#444;stroke-width:0.22px">RCHOA</text><line x1="363.2" y1="140.44" x2="369.5" y2="140.44" stroke="#ff5050" stroke-width="0.7"/><circle cx="366.35" cy="140.44" r="1.19" fill="#ff5050"/><text x="0" y="0" transform="translate(370.7 142.04) scale(0.82 1) skewX(0.3)" font-size="4.4" fill="#222" style="font-family:'Liberation Sans',sans-serif;stroke:#444;stroke-width:0.22px">SCHOA</text><text x="0" y="0" transform="translate(341 216) skewX(0.3)" font-size="8.0" fill="#111" text-anchor="middle" font-weight="bold" style="font-family:'Liberation Serif',serif">(<tspan font-size="9">f</tspan>)</text></g>
<g><rect x="24.6" y="226.4" width="97.4" height="76.2" fill="none" stroke="#c4c4c4" stroke-width="0.6"/><path d="M44 302.6v-1.2M44 226.4v1.2" stroke="#c4c4c4" stroke-width="0.5"/><text x="0" y="0" transform="translate(44 308.5) skewX(0.3)" font-size="4.9" fill="#111" text-anchor="middle" style="font-family:'Liberation Sans',sans-serif;stroke:#222;stroke-width:0.12px">100</text><path d="M64 302.6v-1.2M64 226.4v1.2" stroke="#c4c4c4" stroke-width="0.5"/><text x="0" y="0" transform="translate(64 308.5) skewX(0.3)" font-size="4.9" fill="#111" text-anchor="middle" style="font-family:'Liberation Sans',sans-serif;stroke:#222;stroke-width:0.12px">200</text><path d="M85 302.6v-1.2M85 226.4v1.2" stroke="#c4c4c4" stroke-width="0.5"/><text x="0" y="0" transform="translate(85 308.5) skewX(0.3)" font-size="4.9" fill="#111" text-anchor="middle" style="font-family:'Liberation Sans',sans-serif;stroke:#222;stroke-width:0.12px">300</text><path d="M106 302.6v-1.2M106 226.4v1.2" stroke="#c4c4c4" stroke-width="0.5"/><text x="0" y="0" transform="translate(106 308.5) skewX(0.3)" font-size="4.9" fill="#111" text-anchor="middle" style="font-family:'Liberation Sans',sans-serif;stroke:#222;stroke-width:0.12px">400</text><path d="M24.6 229.4h1.2M122 229.4h-1.2" stroke="#c4c4c4" stroke-width="0.5"/><text x="0" y="0" transform="translate(23.4 231.9) skewX(0.3)" font-size="4.8" fill="#111" text-anchor="end" style="font-family:'Liberation Sans',sans-serif;stroke:#222;stroke-width:0.12px">10<tspan font-size="3.2" dy="-2">2</tspan></text><path d="M24.6 250.6h1.2M122 250.6h-1.2" stroke="#c4c4c4" stroke-width="0.5"/><text x="0" y="0" transform="translate(23.4 253.1) skewX(0.3)" font-size="4.8" fill="#111" text-anchor="end" style="font-family:'Liberation Sans',sans-serif;stroke:#222;stroke-width:0.12px">10<tspan font-size="3.2" dy="-2">0</tspan></text><path d="M24.6 272.2h1.2M122 272.2h-1.2" stroke="#c4c4c4" stroke-width="0.5"/><text x="0" y="0" transform="translate(23.4 274.7) skewX(0.3)" font-size="4.8" fill="#111" text-anchor="end" style="font-family:'Liberation Sans',sans-serif;stroke:#222;stroke-width:0.12px">10<tspan font-size="3.2" dy="-2">-2</tspan></text><path d="M24.6 293.4h1.2M122 293.4h-1.2" stroke="#c4c4c4" stroke-width="0.5"/><text x="0" y="0" transform="translate(23.4 295.9) skewX(0.3)" font-size="4.8" fill="#111" text-anchor="end" style="font-family:'Liberation Sans',sans-serif;stroke:#222;stroke-width:0.12px">10<tspan font-size="3.2" dy="-2">-4</tspan></text><text x="0" y="0" transform="translate(71.5 226) skewX(0.3)" font-size="5.4" fill="#222" text-anchor="middle" style="font-family:'Liberation Sans',sans-serif;stroke:#222;stroke-width:0.12px">f7</text><text x="0" y="0" transform="translate(73.3 314.8) skewX(0.3)" font-size="4.9" fill="#111" text-anchor="middle" style="font-family:'Liberation Sans',sans-serif;stroke:#222;stroke-width:0.12px">Number of iteration</text><text x="0" y="0" font-size="4.9" fill="#111" text-anchor="middle" style="font-family:'Liberation Sans',sans-serif;stroke:#222;stroke-width:0.12px" transform="translate(12.7 265) rotate(-90) skewX(0.3)">Optimal value</text><polyline points="24.6,228 28,281 33,286 41,286 45,302.6 122,302.6" fill="none" stroke="#1a1a1a" stroke-width="0.55"/><rect x="23.65" y="227.05" width="1.9" height="1.9" fill="#1a1a1a"/><rect x="27.75" y="280.75" width="1.9" height="1.9" fill="#1a1a1a"/><rect x="31.85" y="284.85" width="1.9" height="1.9" fill="#1a1a1a"/><rect x="35.95" y="285.05" width="1.9" height="1.9" fill="#1a1a1a"/><rect x="40.05" y="285.05" width="1.9" height="1.9" fill="#1a1a1a"/><rect x="44.15" y="301.65" width="1.9" height="1.9" fill="#1a1a1a"/><rect x="48.25" y="301.65" width="1.9" height="1.9" fill="#1a1a1a"/><rect x="52.35" y="301.65" width="1.9" height="1.9" fill="#1a1a1a"/><rect x="56.45" y="301.65" width="1.9" height="1.9" fill="#1a1a1a"/><rect x="60.55" y="301.65" width="1.9" height="1.9" fill="#1a1a1a"/><rect x="64.65" y="301.65" width="1.9" height="1.9" fill="#1a1a1a"/><rect x="68.75" y="301.65" width="1.9" height="1.9" fill="#1a1a1a"/><rect x="72.85" y="301.65" width="1.9" height="1.9" fill="#1a1a1a"/><rect x="76.95" y="301.65" width="1.9" height="1.9" fill="#1a1a1a"/><rect x="81.05" y="301.65" width="1.9" height="1.9" fill="#1a1a1a"/><rect x="85.15" y="301.65" width="1.9" height="1.9" fill="#1a1a1a"/><rect x="89.25" y="301.65" width="1.9" height="1.9" fill="#1a1a1a"/><rect x="93.35" y="301.65" width="1.9" height="1.9" fill="#1a1a1a"/><rect x="97.45" y="301.65" width="1.9" height="1.9" fill="#1a1a1a"/><rect x="101.55" y="301.65" width="1.9" height="1.9" fill="#1a1a1a"/><rect x="105.65" y="301.65" width="1.9" height="1.9" fill="#1a1a1a"/><rect x="109.75" y="301.65" width="1.9" height="1.9" fill="#1a1a1a"/><rect x="113.85" y="301.65" width="1.9" height="1.9" fill="#1a1a1a"/><rect x="117.95" y="301.65" width="1.9" height="1.9" fill="#1a1a1a"/><polyline points="24.6,228 50,228.5 56,230.6 70,230.6 79,232.6 85.1,236.4 89.6,244.7 93.4,259.8 97.9,273.4 104.7,280.9 122,281.6" fill="none" stroke="#ff2bff" stroke-width="1.0"/><path d="M24.6 226.5l1.55 1.5l-1.55 1.5l-1.55 -1.5z" fill="#ff2bff"/><path d="M28.7 226.58l1.55 1.5l-1.55 1.5l-1.55 -1.5z" fill="#ff2bff"/><path d="M32.8 226.66l1.55 1.5l-1.55 1.5l-1.55 -1.5z" fill="#ff2bff"/><path d="M36.9 226.74l1.55 1.5l-1.55 1.5l-1.55 -1.5z" fill="#ff2bff"/><path d="M41 226.82l1.55 1.5l-1.55 1.5l-1.55 -1.5z" fill="#ff2bff"/><path d="M45.1 226.9l1.55 1.5l-1.55 1.5l-1.55 -1.5z" fill="#ff2bff"/><path d="M49.2 226.98l1.55 1.5l-1.55 1.5l-1.55 -1.5z" fill="#ff2bff"/><path d="M53.3 228.16l1.55 1.5l-1.55 1.5l-1.55 -1.5z" fill="#ff2bff"/><path d="M57.4 229.1l1.55 1.5l-1.55 1.5l-1.55 -1.5z" fill="#ff2bff"/><path d="M61.5 229.1l1.55 1.5l-1.55 1.5l-1.55 -1.5z" fill="#ff2bff"/><path d="M65.6 229.1l1.55 1.5l-1.55 1.5l-1.55 -1.5z" fill="#ff2bff"/><path d="M69.7 229.1l1.55 1.5l-1.55 1.5l-1.55 -1.5z" fill="#ff2bff"/><path d="M73.8 229.94l1.55 1.5l-1.55 1.5l-1.55 -1.5z" fill="#ff2bff"/><path d="M77.9 230.86l1.55 1.5l-1.55 1.5l-1.55 -1.5z" fill="#ff2bff"/><path d="M82 232.97l1.55 1.5l-1.55 1.5l-1.55 -1.5z" fill="#ff2bff"/><path d="M86.1 236.74l1.55 1.5l-1.55 1.5l-1.55 -1.5z" fill="#ff2bff"/><path d="M90.2 245.58l1.55 1.5l-1.55 1.5l-1.55 -1.5z" fill="#ff2bff"/><path d="M94.3 261.02l1.55 1.5l-1.55 1.5l-1.55 -1.5z" fill="#ff2bff"/><path d="M98.4 272.45l1.55 1.5l-1.55 1.5l-1.55 -1.5z" fill="#ff2bff"/><path d="M102.5 276.97l1.55 1.5l-1.55 1.5l-1.55 -1.5z" fill="#ff2bff"/><path d="M106.6 279.48l1.55 1.5l-1.55 1.5l-1.55 -1.5z" fill="#ff2bff"/><path d="M110.7 279.64l1.55 1.5l-1.55 1.5l-1.55 -1.5z" fill="#ff2bff"/><path d="M114.8 279.81l1.55 1.5l-1.55 1.5l-1.55 -1.5z" fill="#ff2bff"/><path d="M118.9 279.97l1.55 1.5l-1.55 1.5l-1.55 -1.5z" fill="#ff2bff"/><polyline points="24.6,228 26,255 28,268 33,274 78,274.6 82,281 122,281" fill="none" stroke="#8a8aff" stroke-width="1.0" stroke-dasharray="2.4 1.5"/><polyline points="24.6,228 28,281 53,281 57,287 65,287 69,292 122,292" fill="none" stroke="#22eef2" stroke-width="1.0"/><path d="M24.6 226.35l1.65 2.8h-3.3z" fill="#22eef2"/><path d="M28.7 279.35l1.65 2.8h-3.3z" fill="#22eef2"/><path d="M32.8 279.35l1.65 2.8h-3.3z" fill="#22eef2"/><path d="M36.9 279.35l1.65 2.8h-3.3z" fill="#22eef2"/><path d="M41 279.35l1.65 2.8h-3.3z" fill="#22eef2"/><path d="M45.1 279.35l1.65 2.8h-3.3z" fill="#22eef2"/><path d="M49.2 279.35l1.65 2.8h-3.3z" fill="#22eef2"/><path d="M53.3 279.8l1.65 2.8h-3.3z" fill="#22eef2"/><path d="M57.4 285.35l1.65 2.8h-3.3z" fill="#22eef2"/><path d="M61.5 285.35l1.65 2.8h-3.3z" fill="#22eef2"/><path d="M65.6 286.1l1.65 2.8h-3.3z" fill="#22eef2"/><path d="M69.7 290.35l1.65 2.8h-3.3z" fill="#22eef2"/><path d="M73.8 290.35l1.65 2.8h-3.3z" fill="#22eef2"/><path d="M77.9 290.35l1.65 2.8h-3.3z" fill="#22eef2"/><path d="M82 290.35l1.65 2.8h-3.3z" fill="#22eef2"/><path d="M86.1 290.35l1.65 2.8h-3.3z" fill="#22eef2"/><path d="M90.2 290.35l1.65 2.8h-3.3z" fill="#22eef2"/><path d="M94.3 290.35l1.65 2.8h-3.3z" fill="#22eef2"/><path d="M98.4 290.35l1.65 2.8h-3.3z" fill="#22eef2"/><path d="M102.5 290.35l1.65 2.8h-3.3z" fill="#22eef2"/><path d="M106.6 290.35l1.65 2.8h-3.3z" fill="#22eef2"/><path d="M110.7 290.35l1.65 2.8h-3.3z" fill="#22eef2"/><path d="M114.8 290.35l1.65 2.8h-3.3z" fill="#22eef2"/><path d="M118.9 290.35l1.65 2.8h-3.3z" fill="#22eef2"/><polyline points="24.6,228 28,281 41,281 45,293.6 122,293.6" fill="none" stroke="#ff5050" stroke-width="1.0"/><circle cx="24.6" cy="228" r="1.32" fill="#ff5050"/><circle cx="28.7" cy="281" r="1.32" fill="#ff5050"/><circle cx="32.8" cy="281" r="1.32" fill="#ff5050"/><circle cx="36.9" cy="281" r="1.32" fill="#ff5050"/><circle cx="41" cy="281" r="1.32" fill="#ff5050"/><circle cx="45.1" cy="293.6" r="1.32" fill="#ff5050"/><circle cx="49.2" cy="293.6" r="1.32" fill="#ff5050"/><circle cx="53.3" cy="293.6" r="1.32" fill="#ff5050"/><circle cx="57.4" cy="293.6" r="1.32" fill="#ff5050"/><circle cx="61.5" cy="293.6" r="1.32" fill="#ff5050"/><circle cx="65.6" cy="293.6" r="1.32" fill="#ff5050"/><circle cx="69.7" cy="293.6" r="1.32" fill="#ff5050"/><circle cx="73.8" cy="293.6" r="1.32" fill="#ff5050"/><circle cx="77.9" cy="293.6" r="1.32" fill="#ff5050"/><circle cx="82" cy="293.6" r="1.32" fill="#ff5050"/><circle cx="86.1" cy="293.6" r="1.32" fill="#ff5050"/><circle cx="90.2" cy="293.6" r="1.32" fill="#ff5050"/><circle cx="94.3" cy="293.6" r="1.32" fill="#ff5050"/><circle cx="98.4" cy="293.6" r="1.32" fill="#ff5050"/><circle cx="102.5" cy="293.6" r="1.32" fill="#ff5050"/><circle cx="106.6" cy="293.6" r="1.32" fill="#ff5050"/><circle cx="110.7" cy="293.6" r="1.32" fill="#ff5050"/><circle cx="114.8" cy="293.6" r="1.32" fill="#ff5050"/><circle cx="118.9" cy="293.6" r="1.32" fill="#ff5050"/><rect x="93" y="227.4" width="28.6" height="25.6" fill="#fff" stroke="#c4c4c4" stroke-width="0.5"/><line x1="94.2" y1="229.96" x2="100.5" y2="229.96" stroke="#1a1a1a" stroke-width="0.7"/><rect x="96.4" y="229.01" width="1.9" height="1.9" fill="#1a1a1a"/><text x="0" y="0" transform="translate(101.7 231.56) scale(0.82 1) skewX(0.3)" font-size="4.4" fill="#222" style="font-family:'Liberation Sans',sans-serif;stroke:#444;stroke-width:0.22px">TRS-CHOA</text><line x1="94.2" y1="235.08" x2="100.5" y2="235.08" stroke="#ff2bff" stroke-width="0.7"/><path d="M97.35 233.73l1.4 1.35l-1.4 1.35l-1.4 -1.35z" fill="#ff2bff"/><text x="0" y="0" transform="translate(101.7 236.68) scale(0.82 1) skewX(0.3)" font-size="4.4" fill="#222" style="font-family:'Liberation Sans',sans-serif;stroke:#444;stroke-width:0.22px">CHOA</text><line x1="94.2" y1="240.2" x2="100.5" y2="240.2" stroke="#8a8aff" stroke-width="0.7" stroke-dasharray="1.6 1.4"/><text x="0" y="0" transform="translate(101.7 241.8) scale(0.82 1) skewX(0.3)" font-size="4.4" fill="#222" style="font-family:'Liberation Sans',sans-serif;stroke:#444;stroke-width:0.22px">TCHOA</text><line x1="94.2" y1="245.32" x2="100.5" y2="245.32" stroke="#22eef2" stroke-width="0.7"/><path d="M97.35 243.83l1.48 2.52h-2.97z" fill="#22eef2"/><text x="0" y="0" transform="translate(101.7 246.92) scale(0.82 1) skewX(0.3)" font-size="4.4" fill="#222" style="font-family:'Liberation Sans',sans-serif;stroke:#444;stroke-width:0.22px">RCHOA</text><line x1="94.2" y1="250.44" x2="100.5" y2="250.44" stroke="#ff5050" stroke-width="0.7"/><circle cx="97.35" cy="250.44" r="1.19" fill="#ff5050"/><text x="0" y="0" transform="translate(101.7 252.04) scale(0.82 1) skewX(0.3)" font-size="4.4" fill="#222" style="font-family:'Liberation Sans',sans-serif;stroke:#444;stroke-width:0.22px">SCHOA</text><text x="0" y="0" transform="translate(65.4 326.2) skewX(0.3)" font-size="8.0" fill="#111" text-anchor="middle" font-weight="bold" style="font-family:'Liberation Serif',serif">(<tspan font-size="10">g</tspan>)</text></g>
<g><rect x="165.6" y="226" width="96" height="76.6" fill="none" stroke="#c4c4c4" stroke-width="0.6"/><path d="M184 302.6v-1.2M184 226v1.2" stroke="#c4c4c4" stroke-width="0.5"/><text x="0" y="0" transform="translate(184 308.5) skewX(0.3)" font-size="4.9" fill="#111" text-anchor="middle" style="font-family:'Liberation Sans',sans-serif;stroke:#222;stroke-width:0.12px">100</text><path d="M206 302.6v-1.2M206 226v1.2" stroke="#c4c4c4" stroke-width="0.5"/><text x="0" y="0" transform="translate(206 308.5) skewX(0.3)" font-size="4.9" fill="#111" text-anchor="middle" style="font-family:'Liberation Sans',sans-serif;stroke:#222;stroke-width:0.12px">200</text><path d="M227 302.6v-1.2M227 226v1.2" stroke="#c4c4c4" stroke-width="0.5"/><text x="0" y="0" transform="translate(227 308.5) skewX(0.3)" font-size="4.9" fill="#111" text-anchor="middle" style="font-family:'Liberation Sans',sans-serif;stroke:#222;stroke-width:0.12px">300</text><path d="M248 302.6v-1.2M248 226v1.2" stroke="#c4c4c4" stroke-width="0.5"/><text x="0" y="0" transform="translate(248 308.5) skewX(0.3)" font-size="4.9" fill="#111" text-anchor="middle" style="font-family:'Liberation Sans',sans-serif;stroke:#222;stroke-width:0.12px">400</text><path d="M165.6 238.6h1.2M261.6 238.6h-1.2" stroke="#c4c4c4" stroke-width="0.5"/><text x="0" y="0" transform="translate(164.6 240.2) skewX(0.3)" font-size="4.6" fill="#111" text-anchor="end" style="font-family:'Liberation Sans',sans-serif;stroke:#222;stroke-width:0.12px">-2000</text><path d="M165.6 263h1.2M261.6 263h-1.2" stroke="#c4c4c4" stroke-width="0.5"/><text x="0" y="0" transform="translate(164.6 264.6) skewX(0.3)" font-size="4.6" fill="#111" text-anchor="end" style="font-family:'Liberation Sans',sans-serif;stroke:#222;stroke-width:0.12px">-4000</text><path d="M165.6 276.6h1.2M261.6 276.6h-1.2" stroke="#c4c4c4" stroke-width="0.5"/><text x="0" y="0" transform="translate(164.6 278.2) skewX(0.3)" font-size="4.6" fill="#111" text-anchor="end" style="font-family:'Liberation Sans',sans-serif;stroke:#222;stroke-width:0.12px">-6000</text><path d="M165.6 286h1.2M261.6 286h-1.2" stroke="#c4c4c4" stroke-width="0.5"/><text x="0" y="0" transform="translate(164.6 287.6) skewX(0.3)" font-size="4.6" fill="#111" text-anchor="end" style="font-family:'Liberation Sans',sans-serif;stroke:#222;stroke-width:0.12px">-8000</text><path d="M165.6 294.6h1.2M261.6 294.6h-1.2" stroke="#c4c4c4" stroke-width="0.5"/><text x="0" y="0" transform="translate(164.6 296.2) skewX(0.3)" font-size="4.6" fill="#111" text-anchor="end" style="font-family:'Liberation Sans',sans-serif;stroke:#222;stroke-width:0.12px">-10,000</text><path d="M165.6 301.4h1.2M261.6 301.4h-1.2" stroke="#c4c4c4" stroke-width="0.5"/><text x="0" y="0" transform="translate(164.6 303) skewX(0.3)" font-size="4.6" fill="#111" text-anchor="end" style="font-family:'Liberation Sans',sans-serif;stroke:#222;stroke-width:0.12px">-12,000</text><text x="0" y="0" transform="translate(210 224) skewX(0.3)" font-size="5.4" fill="#222" text-anchor="middle" style="font-family:'Liberation Sans',sans-serif;stroke:#222;stroke-width:0.12px">f8</text><text x="0" y="0" transform="translate(213.6 314.8) skewX(0.3)" font-size="4.9" fill="#111" text-anchor="middle" style="font-family:'Liberation Sans',sans-serif;stroke:#222;stroke-width:0.12px">Number of iteration</text><text x="0" y="0" font-size="4.9" fill="#111" text-anchor="middle" style="font-family:'Liberation Sans',sans-serif;stroke:#222;stroke-width:0.12px" transform="translate(150.7 263) rotate(-90) skewX(0.3)">Optimal value</text><polyline points="165.6,247 169,302.6 261.6,302.6" fill="none" stroke="#1a1a1a" stroke-width="0.55"/><rect x="164.65" y="246.05" width="1.9" height="1.9" fill="#1a1a1a"/><rect x="168.75" y="301.65" width="1.9" height="1.9" fill="#1a1a1a"/><rect x="172.85" y="301.65" width="1.9" height="1.9" fill="#1a1a1a"/><rect x="176.95" y="301.65" width="1.9" height="1.9" fill="#1a1a1a"/><rect x="181.05" y="301.65" width="1.9" height="1.9" fill="#1a1a1a"/><rect x="185.15" y="301.65" width="1.9" height="1.9" fill="#1a1a1a"/><rect x="189.25" y="301.65" width="1.9" height="1.9" fill="#1a1a1a"/><rect x="193.35" y="301.65" width="1.9" height="1.9" fill="#1a1a1a"/><rect x="197.45" y="301.65" width="1.9" height="1.9" fill="#1a1a1a"/><rect x="201.55" y="301.65" width="1.9" height="1.9" fill="#1a1a1a"/><rect x="205.65" y="301.65" width="1.9" height="1.9" fill="#1a1a1a"/><rect x="209.75" y="301.65" width="1.9" height="1.9" fill="#1a1a1a"/><rect x="213.85" y="301.65" width="1.9" height="1.9" fill="#1a1a1a"/><rect x="217.95" y="301.65" width="1.9" height="1.9" fill="#1a1a1a"/><rect x="222.05" y="301.65" width="1.9" height="1.9" fill="#1a1a1a"/><rect x="226.15" y="301.65" width="1.9" height="1.9" fill="#1a1a1a"/><rect x="230.25" y="301.65" width="1.9" height="1.9" fill="#1a1a1a"/><rect x="234.35" y="301.65" width="1.9" height="1.9" fill="#1a1a1a"/><rect x="238.45" y="301.65" width="1.9" height="1.9" fill="#1a1a1a"/><rect x="242.55" y="301.65" width="1.9" height="1.9" fill="#1a1a1a"/><rect x="246.65" y="301.65" width="1.9" height="1.9" fill="#1a1a1a"/><rect x="250.75" y="301.65" width="1.9" height="1.9" fill="#1a1a1a"/><rect x="254.85" y="301.65" width="1.9" height="1.9" fill="#1a1a1a"/><rect x="258.95" y="301.65" width="1.9" height="1.9" fill="#1a1a1a"/><polyline points="165.6,226 169,275.4 261.6,275.4" fill="none" stroke="#ff2bff" stroke-width="1.0"/><path d="M165.6 224.5l1.55 1.5l-1.55 1.5l-1.55 -1.5z" fill="#ff2bff"/><path d="M169.7 273.9l1.55 1.5l-1.55 1.5l-1.55 -1.5z" fill="#ff2bff"/><path d="M173.8 273.9l1.55 1.5l-1.55 1.5l-1.55 -1.5z" fill="#ff2bff"/><path d="M177.9 273.9l1.55 1.5l-1.55 1.5l-1.55 -1.5z" fill="#ff2bff"/><path d="M182 273.9l1.55 1.5l-1.55 1.5l-1.55 -1.5z" fill="#ff2bff"/><path d="M186.1 273.9l1.55 1.5l-1.55 1.5l-1.55 -1.5z" fill="#ff2bff"/><path d="M190.2 273.9l1.55 1.5l-1.55 1.5l-1.55 -1.5z" fill="#ff2bff"/><path d="M194.3 273.9l1.55 1.5l-1.55 1.5l-1.55 -1.5z" fill="#ff2bff"/><path d="M198.4 273.9l1.55 1.5l-1.55 1.5l-1.55 -1.5z" fill="#ff2bff"/><path d="M202.5 273.9l1.55 1.5l-1.55 1.5l-1.55 -1.5z" fill="#ff2bff"/><path d="M206.6 273.9l1.55 1.5l-1.55 1.5l-1.55 -1.5z" fill="#ff2bff"/><path d="M210.7 273.9l1.55 1.5l-1.55 1.5l-1.55 -1.5z" fill="#ff2bff"/><path d="M214.8 273.9l1.55 1.5l-1.55 1.5l-1.55 -1.5z" fill="#ff2bff"/><path d="M218.9 273.9l1.55 1.5l-1.55 1.5l-1.55 -1.5z" fill="#ff2bff"/><path d="M223 273.9l1.55 1.5l-1.55 1.5l-1.55 -1.5z" fill="#ff2bff"/><path d="M227.1 273.9l1.55 1.5l-1.55 1.5l-1.55 -1.5z" fill="#ff2bff"/><path d="M231.2 273.9l1.55 1.5l-1.55 1.5l-1.55 -1.5z" fill="#ff2bff"/><path d="M235.3 273.9l1.55 1.5l-1.55 1.5l-1.55 -1.5z" fill="#ff2bff"/><path d="M239.4 273.9l1.55 1.5l-1.55 1.5l-1.55 -1.5z" fill="#ff2bff"/><path d="M243.5 273.9l1.55 1.5l-1.55 1.5l-1.55 -1.5z" fill="#ff2bff"/><path d="M247.6 273.9l1.55 1.5l-1.55 1.5l-1.55 -1.5z" fill="#ff2bff"/><path d="M251.7 273.9l1.55 1.5l-1.55 1.5l-1.55 -1.5z" fill="#ff2bff"/><path d="M255.8 273.9l1.55 1.5l-1.55 1.5l-1.55 -1.5z" fill="#ff2bff"/><path d="M259.9 273.9l1.55 1.5l-1.55 1.5l-1.55 -1.5z" fill="#ff2bff"/><polyline points="165.6,235 170,267.4 261.6,267.4" fill="none" stroke="#8a8aff" stroke-width="1.0" stroke-dasharray="2.4 1.5"/><polyline points="165.6,245 169,284 174,284 178,286 181,290 190,291 261.6,291" fill="none" stroke="#22eef2" stroke-width="1.0"/><path d="M165.6 243.35l1.65 2.8h-3.3z" fill="#22eef2"/><path d="M169.7 282.35l1.65 2.8h-3.3z" fill="#22eef2"/><path d="M173.8 282.35l1.65 2.8h-3.3z" fill="#22eef2"/><path d="M177.9 284.3l1.65 2.8h-3.3z" fill="#22eef2"/><path d="M182 288.46l1.65 2.8h-3.3z" fill="#22eef2"/><path d="M186.1 288.92l1.65 2.8h-3.3z" fill="#22eef2"/><path d="M190.2 289.35l1.65 2.8h-3.3z" fill="#22eef2"/><path d="M194.3 289.35l1.65 2.8h-3.3z" fill="#22eef2"/><path d="M198.4 289.35l1.65 2.8h-3.3z" fill="#22eef2"/><path d="M202.5 289.35l1.65 2.8h-3.3z" fill="#22eef2"/><path d="M206.6 289.35l1.65 2.8h-3.3z" fill="#22eef2"/><path d="M210.7 289.35l1.65 2.8h-3.3z" fill="#22eef2"/><path d="M214.8 289.35l1.65 2.8h-3.3z" fill="#22eef2"/><path d="M218.9 289.35l1.65 2.8h-3.3z" fill="#22eef2"/><path d="M223 289.35l1.65 2.8h-3.3z" fill="#22eef2"/><path d="M227.1 289.35l1.65 2.8h-3.3z" fill="#22eef2"/><path d="M231.2 289.35l1.65 2.8h-3.3z" fill="#22eef2"/><path d="M235.3 289.35l1.65 2.8h-3.3z" fill="#22eef2"/><path d="M239.4 289.35l1.65 2.8h-3.3z" fill="#22eef2"/><path d="M243.5 289.35l1.65 2.8h-3.3z" fill="#22eef2"/><path d="M247.6 289.35l1.65 2.8h-3.3z" fill="#22eef2"/><path d="M251.7 289.35l1.65 2.8h-3.3z" fill="#22eef2"/><path d="M255.8 289.35l1.65 2.8h-3.3z" fill="#22eef2"/><path d="M259.9 289.35l1.65 2.8h-3.3z" fill="#22eef2"/><polyline points="165.6,251 169,291 261.6,291" fill="none" stroke="#ff5050" stroke-width="1.0"/><circle cx="165.6" cy="251" r="1.32" fill="#ff5050"/><circle cx="169.7" cy="291" r="1.32" fill="#ff5050"/><circle cx="173.8" cy="291" r="1.32" fill="#ff5050"/><circle cx="177.9" cy="291" r="1.32" fill="#ff5050"/><circle cx="182" cy="291" r="1.32" fill="#ff5050"/><circle cx="186.1" cy="291" r="1.32" fill="#ff5050"/><circle cx="190.2" cy="291" r="1.32" fill="#ff5050"/><circle cx="194.3" cy="291" r="1.32" fill="#ff5050"/><circle cx="198.4" cy="291" r="1.32" fill="#ff5050"/><circle cx="202.5" cy="291" r="1.32" fill="#ff5050"/><circle cx="206.6" cy="291" r="1.32" fill="#ff5050"/><circle cx="210.7" cy="291" r="1.32" fill="#ff5050"/><circle cx="214.8" cy="291" r="1.32" fill="#ff5050"/><circle cx="218.9" cy="291" r="1.32" fill="#ff5050"/><circle cx="223" cy="291" r="1.32" fill="#ff5050"/><circle cx="227.1" cy="291" r="1.32" fill="#ff5050"/><circle cx="231.2" cy="291" r="1.32" fill="#ff5050"/><circle cx="235.3" cy="291" r="1.32" fill="#ff5050"/><circle cx="239.4" cy="291" r="1.32" fill="#ff5050"/><circle cx="243.5" cy="291" r="1.32" fill="#ff5050"/><circle cx="247.6" cy="291" r="1.32" fill="#ff5050"/><circle cx="251.7" cy="291" r="1.32" fill="#ff5050"/><circle cx="255.8" cy="291" r="1.32" fill="#ff5050"/><circle cx="259.9" cy="291" r="1.32" fill="#ff5050"/><rect x="230" y="228" width="30" height="26" fill="#fff" stroke="#c4c4c4" stroke-width="0.5"/><line x1="231.2" y1="230.6" x2="237.5" y2="230.6" stroke="#1a1a1a" stroke-width="0.7"/><rect x="233.4" y="229.65" width="1.9" height="1.9" fill="#1a1a1a"/><text x="0" y="0" transform="translate(238.7 232.2) scale(0.82 1) skewX(0.3)" font-size="4.4" fill="#222" style="font-family:'Liberation Sans',sans-serif;stroke:#444;stroke-width:0.22px">TRS-CHOA</text><line x1="231.2" y1="235.8" x2="237.5" y2="235.8" stroke="#ff2bff" stroke-width="0.7"/><path d="M234.35 234.45l1.4 1.35l-1.4 1.35l-1.4 -1.35z" fill="#ff2bff"/><text x="0" y="0" transform="translate(238.7 237.4) scale(0.82 1) skewX(0.3)" font-size="4.4" fill="#222" style="font-family:'Liberation Sans',sans-serif;stroke:#444;stroke-width:0.22px">CHOA</text><line x1="231.2" y1="241" x2="237.5" y2="241" stroke="#8a8aff" stroke-width="0.7" stroke-dasharray="1.6 1.4"/><text x="0" y="0" transform="translate(238.7 242.6) scale(0.82 1) skewX(0.3)" font-size="4.4" fill="#222" style="font-family:'Liberation Sans',sans-serif;stroke:#444;stroke-width:0.22px">TCHOA</text><line x1="231.2" y1="246.2" x2="237.5" y2="246.2" stroke="#22eef2" stroke-width="0.7"/><path d="M234.35 244.71l1.48 2.52h-2.97z" fill="#22eef2"/><text x="0" y="0" transform="translate(238.7 247.8) scale(0.82 1) skewX(0.3)" font-size="4.4" fill="#222" style="font-family:'Liberation Sans',sans-serif;stroke:#444;stroke-width:0.22px">RCHOA</text><line x1="231.2" y1="251.4" x2="237.5" y2="251.4" stroke="#ff5050" stroke-width="0.7"/><circle cx="234.35" cy="251.4" r="1.19" fill="#ff5050"/><text x="0" y="0" transform="translate(238.7 253) scale(0.82 1) skewX(0.3)" font-size="4.4" fill="#222" style="font-family:'Liberation Sans',sans-serif;stroke:#444;stroke-width:0.22px">SCHOA</text><text x="0" y="0" transform="translate(204.4 326.2) skewX(0.3)" font-size="8.0" fill="#111" text-anchor="middle" font-weight="bold" style="font-family:'Liberation Serif',serif">(<tspan font-size="9">h</tspan>)</text></g>
<g><rect x="296.4" y="226" width="98" height="76" fill="none" stroke="#c4c4c4" stroke-width="0.6"/><path d="M316 302v-1.2M316 226v1.2" stroke="#c4c4c4" stroke-width="0.5"/><text x="0" y="0" transform="translate(316 307.9) skewX(0.3)" font-size="4.9" fill="#111" text-anchor="middle" style="font-family:'Liberation Sans',sans-serif;stroke:#222;stroke-width:0.12px">100</text><path d="M337.5 302v-1.2M337.5 226v1.2" stroke="#c4c4c4" stroke-width="0.5"/><text x="0" y="0" transform="translate(337.5 307.9) skewX(0.3)" font-size="4.9" fill="#111" text-anchor="middle" style="font-family:'Liberation Sans',sans-serif;stroke:#222;stroke-width:0.12px">200</text><path d="M357 302v-1.2M357 226v1.2" stroke="#c4c4c4" stroke-width="0.5"/><text x="0" y="0" transform="translate(357 307.9) skewX(0.3)" font-size="4.9" fill="#111" text-anchor="middle" style="font-family:'Liberation Sans',sans-serif;stroke:#222;stroke-width:0.12px">300</text><path d="M378 302v-1.2M378 226v1.2" stroke="#c4c4c4" stroke-width="0.5"/><text x="0" y="0" transform="translate(378 307.9) skewX(0.3)" font-size="4.9" fill="#111" text-anchor="middle" style="font-family:'Liberation Sans',sans-serif;stroke:#222;stroke-width:0.12px">400</text><path d="M296.4 238.5h1.2M394.4 238.5h-1.2" stroke="#c4c4c4" stroke-width="0.5"/><text x="0" y="0" transform="translate(295.2 241) skewX(0.3)" font-size="4.8" fill="#111" text-anchor="end" style="font-family:'Liberation Sans',sans-serif;stroke:#222;stroke-width:0.12px">10<tspan font-size="3.2" dy="-2">0</tspan></text><path d="M296.4 262h1.2M394.4 262h-1.2" stroke="#c4c4c4" stroke-width="0.5"/><text x="0" y="0" transform="translate(295.2 264.5) skewX(0.3)" font-size="4.8" fill="#111" text-anchor="end" style="font-family:'Liberation Sans',sans-serif;stroke:#222;stroke-width:0.12px">10<tspan font-size="3.2" dy="-2">-5</tspan></text><path d="M296.4 286h1.2M394.4 286h-1.2" stroke="#c4c4c4" stroke-width="0.5"/><text x="0" y="0" transform="translate(295.2 288.5) skewX(0.3)" font-size="4.8" fill="#111" text-anchor="end" style="font-family:'Liberation Sans',sans-serif;stroke:#222;stroke-width:0.12px">10<tspan font-size="3.2" dy="-2">-10</tspan></text><text x="0" y="0" transform="translate(345.6 224.6) skewX(0.3)" font-size="5.4" fill="#222" text-anchor="middle" style="font-family:'Liberation Sans',sans-serif;stroke:#222;stroke-width:0.12px">f9</text><text x="0" y="0" transform="translate(345.4 315.2) skewX(0.3)" font-size="4.9" fill="#111" text-anchor="middle" style="font-family:'Liberation Sans',sans-serif;stroke:#222;stroke-width:0.12px">Number of iteration</text><text x="0" y="0" font-size="4.9" fill="#111" text-anchor="middle" style="font-family:'Liberation Sans',sans-serif;stroke:#222;stroke-width:0.12px" transform="translate(281.7 265) rotate(-90) skewX(0.3)">Optimal value</text><polyline points="296.6,232 301,284" fill="none" stroke="#1a1a1a" stroke-width="0.55"/><rect x="299.55" y="277.14" width="1.9" height="1.9" fill="#1a1a1a"/><polyline points="296.4,226.6 356,226.6 366,230 377,244 378,245.4 394.4,245.4" fill="none" stroke="#ff2bff" stroke-width="1.0"/><path d="M296.4 225.1l1.55 1.5l-1.55 1.5l-1.55 -1.5z" fill="#ff2bff"/><path d="M300.5 225.1l1.55 1.5l-1.55 1.5l-1.55 -1.5z" fill="#ff2bff"/><path d="M304.6 225.1l1.55 1.5l-1.55 1.5l-1.55 -1.5z" fill="#ff2bff"/><path d="M308.7 225.1l1.55 1.5l-1.55 1.5l-1.55 -1.5z" fill="#ff2bff"/><path d="M312.8 225.1l1.55 1.5l-1.55 1.5l-1.55 -1.5z" fill="#ff2bff"/><path d="M316.9 225.1l1.55 1.5l-1.55 1.5l-1.55 -1.5z" fill="#ff2bff"/><path d="M321 225.1l1.55 1.5l-1.55 1.5l-1.55 -1.5z" fill="#ff2bff"/><path d="M325.1 225.1l1.55 1.5l-1.55 1.5l-1.55 -1.5z" fill="#ff2bff"/><path d="M329.2 225.1l1.55 1.5l-1.55 1.5l-1.55 -1.5z" fill="#ff2bff"/><path d="M333.3 225.1l1.55 1.5l-1.55 1.5l-1.55 -1.5z" fill="#ff2bff"/><path d="M337.4 225.1l1.55 1.5l-1.55 1.5l-1.55 -1.5z" fill="#ff2bff"/><path d="M341.5 225.1l1.55 1.5l-1.55 1.5l-1.55 -1.5z" fill="#ff2bff"/><path d="M345.6 225.1l1.55 1.5l-1.55 1.5l-1.55 -1.5z" fill="#ff2bff"/><path d="M349.7 225.1l1.55 1.5l-1.55 1.5l-1.55 -1.5z" fill="#ff2bff"/><path d="M353.8 225.1l1.55 1.5l-1.55 1.5l-1.55 -1.5z" fill="#ff2bff"/><path d="M357.9 225.75l1.55 1.5l-1.55 1.5l-1.55 -1.5z" fill="#ff2bff"/><path d="M362 227.14l1.55 1.5l-1.55 1.5l-1.55 -1.5z" fill="#ff2bff"/><path d="M366.1 228.63l1.55 1.5l-1.55 1.5l-1.55 -1.5z" fill="#ff2bff"/><path d="M370.2 233.85l1.55 1.5l-1.55 1.5l-1.55 -1.5z" fill="#ff2bff"/><path d="M374.3 239.06l1.55 1.5l-1.55 1.5l-1.55 -1.5z" fill="#ff2bff"/><path d="M378.4 243.9l1.55 1.5l-1.55 1.5l-1.55 -1.5z" fill="#ff2bff"/><path d="M382.5 243.9l1.55 1.5l-1.55 1.5l-1.55 -1.5z" fill="#ff2bff"/><path d="M386.6 243.9l1.55 1.5l-1.55 1.5l-1.55 -1.5z" fill="#ff2bff"/><path d="M390.7 243.9l1.55 1.5l-1.55 1.5l-1.55 -1.5z" fill="#ff2bff"/><polyline points="296.4,226.6 305,227.4 309,229.4 394.4,229.6" fill="none" stroke="#8a8aff" stroke-width="1.0" stroke-dasharray="2.4 1.5"/><polyline points="297,228 309,228.5 313,237 321,257 325,271 329,284 333,302" fill="none" stroke="#22eef2" stroke-width="1.0"/><path d="M300.5 226.5l1.65 2.8h-3.3z" fill="#22eef2"/><path d="M304.6 226.67l1.65 2.8h-3.3z" fill="#22eef2"/><path d="M308.7 226.84l1.65 2.8h-3.3z" fill="#22eef2"/><path d="M312.8 234.93l1.65 2.8h-3.3z" fill="#22eef2"/><path d="M316.9 245.1l1.65 2.8h-3.3z" fill="#22eef2"/><path d="M321 255.35l1.65 2.8h-3.3z" fill="#22eef2"/><path d="M325.1 269.68l1.65 2.8h-3.3z" fill="#22eef2"/><path d="M329.2 283.25l1.65 2.8h-3.3z" fill="#22eef2"/><path d="M333 300.35l1.65 2.8h-3.3z" fill="#22eef2"/><polyline points="296.4,226.6 309,226.6 312.4,235 354,235 358,266" fill="none" stroke="#ff5050" stroke-width="1.0"/><circle cx="296.4" cy="226.6" r="1.32" fill="#ff5050"/><circle cx="300.5" cy="226.6" r="1.32" fill="#ff5050"/><circle cx="304.6" cy="226.6" r="1.32" fill="#ff5050"/><circle cx="308.7" cy="226.6" r="1.32" fill="#ff5050"/><circle cx="312.8" cy="235" r="1.32" fill="#ff5050"/><circle cx="316.9" cy="235" r="1.32" fill="#ff5050"/><circle cx="321" cy="235" r="1.32" fill="#ff5050"/><circle cx="325.1" cy="235" r="1.32" fill="#ff5050"/><circle cx="329.2" cy="235" r="1.32" fill="#ff5050"/><circle cx="333.3" cy="235" r="1.32" fill="#ff5050"/><circle cx="337.4" cy="235" r="1.32" fill="#ff5050"/><circle cx="341.5" cy="235" r="1.32" fill="#ff5050"/><circle cx="345.6" cy="235" r="1.32" fill="#ff5050"/><circle cx="349.7" cy="235" r="1.32" fill="#ff5050"/><circle cx="353.8" cy="235" r="1.32" fill="#ff5050"/><circle cx="357.9" cy="265.23" r="1.32" fill="#ff5050"/><rect x="363.6" y="248.6" width="28.4" height="25.4" fill="#fff" stroke="#c4c4c4" stroke-width="0.5"/><line x1="364.8" y1="251.14" x2="371.1" y2="251.14" stroke="#1a1a1a" stroke-width="0.7"/><rect x="367" y="250.19" width="1.9" height="1.9" fill="#1a1a1a"/><text x="0" y="0" transform="translate(372.3 252.74) scale(0.82 1) skewX(0.3)" font-size="4.4" fill="#222" style="font-family:'Liberation Sans',sans-serif;stroke:#444;stroke-width:0.22px">TRS-CHOA</text><line x1="364.8" y1="256.22" x2="371.1" y2="256.22" stroke="#ff2bff" stroke-width="0.7"/><path d="M367.95 254.87l1.4 1.35l-1.4 1.35l-1.4 -1.35z" fill="#ff2bff"/><text x="0" y="0" transform="translate(372.3 257.82) scale(0.82 1) skewX(0.3)" font-size="4.4" fill="#222" style="font-family:'Liberation Sans',sans-serif;stroke:#444;stroke-width:0.22px">CHOA</text><line x1="364.8" y1="261.3" x2="371.1" y2="261.3" stroke="#8a8aff" stroke-width="0.7" stroke-dasharray="1.6 1.4"/><text x="0" y="0" transform="translate(372.3 262.9) scale(0.82 1) skewX(0.3)" font-size="4.4" fill="#222" style="font-family:'Liberation Sans',sans-serif;stroke:#444;stroke-width:0.22px">TCHOA</text><line x1="364.8" y1="266.38" x2="371.1" y2="266.38" stroke="#22eef2" stroke-width="0.7"/><path d="M367.95 264.89l1.48 2.52h-2.97z" fill="#22eef2"/><text x="0" y="0" transform="translate(372.3 267.98) scale(0.82 1) skewX(0.3)" font-size="4.4" fill="#222" style="font-family:'Liberation Sans',sans-serif;stroke:#444;stroke-width:0.22px">RCHOA</text><line x1="364.8" y1="271.46" x2="371.1" y2="271.46" stroke="#ff5050" stroke-width="0.7"/><circle cx="367.95" cy="271.46" r="1.19" fill="#ff5050"/><text x="0" y="0" transform="translate(372.3 273.06) scale(0.82 1) skewX(0.3)" font-size="4.4" fill="#222" style="font-family:'Liberation Sans',sans-serif;stroke:#444;stroke-width:0.22px">SCHOA</text><text x="0" y="0" transform="translate(341.6 326.2) skewX(0.3)" font-size="8.0" fill="#111" text-anchor="middle" font-weight="bold" style="font-family:'Liberation Serif',serif">(<tspan font-size="9">i</tspan>)</text></g>
<g><rect x="22.4" y="336.4" width="96.6" height="74.6" fill="none" stroke="#c4c4c4" stroke-width="0.6"/><path d="M43 411v-1.2M43 336.4v1.2" stroke="#c4c4c4" stroke-width="0.5"/><text x="0" y="0" transform="translate(43 416.9) skewX(0.3)" font-size="4.9" fill="#111" text-anchor="middle" style="font-family:'Liberation Sans',sans-serif;stroke:#222;stroke-width:0.12px">100</text><path d="M62.5 411v-1.2M62.5 336.4v1.2" stroke="#c4c4c4" stroke-width="0.5"/><text x="0" y="0" transform="translate(62.5 416.9) skewX(0.3)" font-size="4.9" fill="#111" text-anchor="middle" style="font-family:'Liberation Sans',sans-serif;stroke:#222;stroke-width:0.12px">200</text><path d="M82 411v-1.2M82 336.4v1.2" stroke="#c4c4c4" stroke-width="0.5"/><text x="0" y="0" transform="translate(82 416.9) skewX(0.3)" font-size="4.9" fill="#111" text-anchor="middle" style="font-family:'Liberation Sans',sans-serif;stroke:#222;stroke-width:0.12px">300</text><path d="M102 411v-1.2M102 336.4v1.2" stroke="#c4c4c4" stroke-width="0.5"/><text x="0" y="0" transform="translate(102 416.9) skewX(0.3)" font-size="4.9" fill="#111" text-anchor="middle" style="font-family:'Liberation Sans',sans-serif;stroke:#222;stroke-width:0.12px">400</text><path d="M22.4 341.5h1.2M119 341.5h-1.2" stroke="#c4c4c4" stroke-width="0.5"/><text x="0" y="0" transform="translate(21.2 344) skewX(0.3)" font-size="4.8" fill="#111" text-anchor="end" style="font-family:'Liberation Sans',sans-serif;stroke:#222;stroke-width:0.12px">10<tspan font-size="3.2" dy="-2">0</tspan></text><path d="M22.4 387h1.2M119 387h-1.2" stroke="#c4c4c4" stroke-width="0.5"/><text x="0" y="0" transform="translate(21.2 389.5) skewX(0.3)" font-size="4.8" fill="#111" text-anchor="end" style="font-family:'Liberation Sans',sans-serif;stroke:#222;stroke-width:0.12px">10<tspan font-size="3.2" dy="-2">-10</tspan></text><text x="0" y="0" transform="translate(70.5 334.4) skewX(0.3)" font-size="5.4" fill="#222" text-anchor="middle" style="font-family:'Liberation Sans',sans-serif;stroke:#222;stroke-width:0.12px">f10</text><text x="0" y="0" transform="translate(70.7 424.6) skewX(0.3)" font-size="4.9" fill="#111" text-anchor="middle" style="font-family:'Liberation Sans',sans-serif;stroke:#222;stroke-width:0.12px">Number of iteration</text><text x="0" y="0" font-size="4.9" fill="#111" text-anchor="middle" style="font-family:'Liberation Sans',sans-serif;stroke:#222;stroke-width:0.12px" transform="translate(7.7 377) rotate(-90) skewX(0.3)">Optimal value</text><polyline points="22.4,341.6 26,368 30,379 34,407.6 38,407.6 42,411 119,411" fill="none" stroke="#1a1a1a" stroke-width="0.55"/><rect x="21.45" y="340.65" width="1.9" height="1.9" fill="#1a1a1a"/><rect x="25.55" y="368.43" width="1.9" height="1.9" fill="#1a1a1a"/><rect x="29.65" y="382.34" width="1.9" height="1.9" fill="#1a1a1a"/><rect x="33.75" y="406.65" width="1.9" height="1.9" fill="#1a1a1a"/><rect x="37.85" y="407.33" width="1.9" height="1.9" fill="#1a1a1a"/><rect x="41.95" y="410.05" width="1.9" height="1.9" fill="#1a1a1a"/><rect x="46.05" y="410.05" width="1.9" height="1.9" fill="#1a1a1a"/><rect x="50.15" y="410.05" width="1.9" height="1.9" fill="#1a1a1a"/><rect x="54.25" y="410.05" width="1.9" height="1.9" fill="#1a1a1a"/><rect x="58.35" y="410.05" width="1.9" height="1.9" fill="#1a1a1a"/><rect x="62.45" y="410.05" width="1.9" height="1.9" fill="#1a1a1a"/><rect x="66.55" y="410.05" width="1.9" height="1.9" fill="#1a1a1a"/><rect x="70.65" y="410.05" width="1.9" height="1.9" fill="#1a1a1a"/><rect x="74.75" y="410.05" width="1.9" height="1.9" fill="#1a1a1a"/><rect x="78.85" y="410.05" width="1.9" height="1.9" fill="#1a1a1a"/><rect x="82.95" y="410.05" width="1.9" height="1.9" fill="#1a1a1a"/><rect x="87.05" y="410.05" width="1.9" height="1.9" fill="#1a1a1a"/><rect x="91.15" y="410.05" width="1.9" height="1.9" fill="#1a1a1a"/><rect x="95.25" y="410.05" width="1.9" height="1.9" fill="#1a1a1a"/><rect x="99.35" y="410.05" width="1.9" height="1.9" fill="#1a1a1a"/><rect x="103.45" y="410.05" width="1.9" height="1.9" fill="#1a1a1a"/><rect x="107.55" y="410.05" width="1.9" height="1.9" fill="#1a1a1a"/><rect x="111.65" y="410.05" width="1.9" height="1.9" fill="#1a1a1a"/><rect x="115.75" y="410.05" width="1.9" height="1.9" fill="#1a1a1a"/><polyline points="22.4,337.2 86,337.2 90,391 94,411 119,411" fill="none" stroke="#ff5050" stroke-width="1.0"/><circle cx="22.4" cy="337.2" r="1.32" fill="#ff5050"/><circle cx="26.5" cy="337.2" r="1.32" fill="#ff5050"/><circle cx="30.6" cy="337.2" r="1.32" fill="#ff5050"/><circle cx="34.7" cy="337.2" r="1.32" fill="#ff5050"/><circle cx="38.8" cy="337.2" r="1.32" fill="#ff5050"/><circle cx="42.9" cy="337.2" r="1.32" fill="#ff5050"/><circle cx="47" cy="337.2" r="1.32" fill="#ff5050"/><circle cx="51.1" cy="337.2" r="1.32" fill="#ff5050"/><circle cx="55.2" cy="337.2" r="1.32" fill="#ff5050"/><circle cx="59.3" cy="337.2" r="1.32" fill="#ff5050"/><circle cx="63.4" cy="337.2" r="1.32" fill="#ff5050"/><circle cx="67.5" cy="337.2" r="1.32" fill="#ff5050"/><circle cx="71.6" cy="337.2" r="1.32" fill="#ff5050"/><circle cx="75.7" cy="337.2" r="1.32" fill="#ff5050"/><circle cx="79.8" cy="337.2" r="1.32" fill="#ff5050"/><circle cx="83.9" cy="337.2" r="1.32" fill="#ff5050"/><circle cx="88" cy="364.1" r="1.32" fill="#ff5050"/><circle cx="92.1" cy="401.5" r="1.32" fill="#ff5050"/><circle cx="96.2" cy="411" r="1.32" fill="#ff5050"/><circle cx="100.3" cy="411" r="1.32" fill="#ff5050"/><circle cx="104.4" cy="411" r="1.32" fill="#ff5050"/><circle cx="108.5" cy="411" r="1.32" fill="#ff5050"/><circle cx="112.6" cy="411" r="1.32" fill="#ff5050"/><circle cx="116.7" cy="411" r="1.32" fill="#ff5050"/><polyline points="22.4,339 119,340.2" fill="none" stroke="#8a8aff" stroke-width="1.0" stroke-dasharray="2.4 1.5"/><polyline points="22.4,337 28.9,344.7 34,347.5 38.2,348.5 45.9,355.5 50.5,360.9 58.3,374.8 66,395 73.7,411 119,411" fill="none" stroke="#22eef2" stroke-width="1.0"/><path d="M22.4 335.35l1.65 2.8h-3.3z" fill="#22eef2"/><path d="M26.5 340.21l1.65 2.8h-3.3z" fill="#22eef2"/><path d="M30.6 343.98l1.65 2.8h-3.3z" fill="#22eef2"/><path d="M34.7 346.02l1.65 2.8h-3.3z" fill="#22eef2"/><path d="M38.8 347.4l1.65 2.8h-3.3z" fill="#22eef2"/><path d="M42.9 351.12l1.65 2.8h-3.3z" fill="#22eef2"/><path d="M47 355.14l1.65 2.8h-3.3z" fill="#22eef2"/><path d="M51.1 360.32l1.65 2.8h-3.3z" fill="#22eef2"/><path d="M55.2 367.63l1.65 2.8h-3.3z" fill="#22eef2"/><path d="M59.3 375.77l1.65 2.8h-3.3z" fill="#22eef2"/><path d="M63.4 386.53l1.65 2.8h-3.3z" fill="#22eef2"/><path d="M67.5 396.47l1.65 2.8h-3.3z" fill="#22eef2"/><path d="M71.6 404.99l1.65 2.8h-3.3z" fill="#22eef2"/><path d="M75.7 409.35l1.65 2.8h-3.3z" fill="#22eef2"/><path d="M79.8 409.35l1.65 2.8h-3.3z" fill="#22eef2"/><path d="M83.9 409.35l1.65 2.8h-3.3z" fill="#22eef2"/><path d="M88 409.35l1.65 2.8h-3.3z" fill="#22eef2"/><path d="M92.1 409.35l1.65 2.8h-3.3z" fill="#22eef2"/><path d="M96.2 409.35l1.65 2.8h-3.3z" fill="#22eef2"/><path d="M100.3 409.35l1.65 2.8h-3.3z" fill="#22eef2"/><path d="M104.4 409.35l1.65 2.8h-3.3z" fill="#22eef2"/><path d="M108.5 409.35l1.65 2.8h-3.3z" fill="#22eef2"/><path d="M112.6 409.35l1.65 2.8h-3.3z" fill="#22eef2"/><path d="M116.7 409.35l1.65 2.8h-3.3z" fill="#22eef2"/><polyline points="22.4,336.4 119,336.4" fill="none" stroke="#ff2bff" stroke-width="1.0"/><path d="M22.4 334.9l1.55 1.5l-1.55 1.5l-1.55 -1.5z" fill="#ff2bff"/><path d="M26.5 334.9l1.55 1.5l-1.55 1.5l-1.55 -1.5z" fill="#ff2bff"/><path d="M30.6 334.9l1.55 1.5l-1.55 1.5l-1.55 -1.5z" fill="#ff2bff"/><path d="M34.7 334.9l1.55 1.5l-1.55 1.5l-1.55 -1.5z" fill="#ff2bff"/><path d="M38.8 334.9l1.55 1.5l-1.55 1.5l-1.55 -1.5z" fill="#ff2bff"/><path d="M42.9 334.9l1.55 1.5l-1.55 1.5l-1.55 -1.5z" fill="#ff2bff"/><path d="M47 334.9l1.55 1.5l-1.55 1.5l-1.55 -1.5z" fill="#ff2bff"/><path d="M51.1 334.9l1.55 1.5l-1.55 1.5l-1.55 -1.5z" fill="#ff2bff"/><path d="M55.2 334.9l1.55 1.5l-1.55 1.5l-1.55 -1.5z" fill="#ff2bff"/><path d="M59.3 334.9l1.55 1.5l-1.55 1.5l-1.55 -1.5z" fill="#ff2bff"/><path d="M63.4 334.9l1.55 1.5l-1.55 1.5l-1.55 -1.5z" fill="#ff2bff"/><path d="M67.5 334.9l1.55 1.5l-1.55 1.5l-1.55 -1.5z" fill="#ff2bff"/><path d="M71.6 334.9l1.55 1.5l-1.55 1.5l-1.55 -1.5z" fill="#ff2bff"/><path d="M75.7 334.9l1.55 1.5l-1.55 1.5l-1.55 -1.5z" fill="#ff2bff"/><path d="M79.8 334.9l1.55 1.5l-1.55 1.5l-1.55 -1.5z" fill="#ff2bff"/><path d="M83.9 334.9l1.55 1.5l-1.55 1.5l-1.55 -1.5z" fill="#ff2bff"/><path d="M88 334.9l1.55 1.5l-1.55 1.5l-1.55 -1.5z" fill="#ff2bff"/><path d="M92.1 334.9l1.55 1.5l-1.55 1.5l-1.55 -1.5z" fill="#ff2bff"/><path d="M96.2 334.9l1.55 1.5l-1.55 1.5l-1.55 -1.5z" fill="#ff2bff"/><path d="M100.3 334.9l1.55 1.5l-1.55 1.5l-1.55 -1.5z" fill="#ff2bff"/><path d="M104.4 334.9l1.55 1.5l-1.55 1.5l-1.55 -1.5z" fill="#ff2bff"/><path d="M108.5 334.9l1.55 1.5l-1.55 1.5l-1.55 -1.5z" fill="#ff2bff"/><path d="M112.6 334.9l1.55 1.5l-1.55 1.5l-1.55 -1.5z" fill="#ff2bff"/><path d="M116.7 334.9l1.55 1.5l-1.55 1.5l-1.55 -1.5z" fill="#ff2bff"/><rect x="89" y="343" width="29" height="25.4" fill="#fff" stroke="#c4c4c4" stroke-width="0.5"/><line x1="90.2" y1="345.54" x2="96.5" y2="345.54" stroke="#1a1a1a" stroke-width="0.7"/><rect x="92.4" y="344.59" width="1.9" height="1.9" fill="#1a1a1a"/><text x="0" y="0" transform="translate(97.7 347.14) scale(0.82 1) skewX(0.3)" font-size="4.4" fill="#222" style="font-family:'Liberation Sans',sans-serif;stroke:#444;stroke-width:0.22px">TRS-CHOA</text><line x1="90.2" y1="350.62" x2="96.5" y2="350.62" stroke="#ff2bff" stroke-width="0.7"/><path d="M93.35 349.27l1.4 1.35l-1.4 1.35l-1.4 -1.35z" fill="#ff2bff"/><text x="0" y="0" transform="translate(97.7 352.22) scale(0.82 1) skewX(0.3)" font-size="4.4" fill="#222" style="font-family:'Liberation Sans',sans-serif;stroke:#444;stroke-width:0.22px">CHOA</text><line x1="90.2" y1="355.7" x2="96.5" y2="355.7" stroke="#8a8aff" stroke-width="0.7" stroke-dasharray="1.6 1.4"/><text x="0" y="0" transform="translate(97.7 357.3) scale(0.82 1) skewX(0.3)" font-size="4.4" fill="#222" style="font-family:'Liberation Sans',sans-serif;stroke:#444;stroke-width:0.22px">TCHOA</text><line x1="90.2" y1="360.78" x2="96.5" y2="360.78" stroke="#22eef2" stroke-width="0.7"/><path d="M93.35 359.29l1.48 2.52h-2.97z" fill="#22eef2"/><text x="0" y="0" transform="translate(97.7 362.38) scale(0.82 1) skewX(0.3)" font-size="4.4" fill="#222" style="font-family:'Liberation Sans',sans-serif;stroke:#444;stroke-width:0.22px">RCHOA</text><line x1="90.2" y1="365.86" x2="96.5" y2="365.86" stroke="#ff5050" stroke-width="0.7"/><circle cx="93.35" cy="365.86" r="1.19" fill="#ff5050"/><text x="0" y="0" transform="translate(97.7 367.46) scale(0.82 1) skewX(0.3)" font-size="4.4" fill="#222" style="font-family:'Liberation Sans',sans-serif;stroke:#444;stroke-width:0.22px">SCHOA</text><text x="0" y="0" transform="translate(65.4 436) skewX(0.3)" font-size="8.0" fill="#111" text-anchor="middle" font-weight="bold" style="font-family:'Liberation Serif',serif">(<tspan font-size="9">j</tspan>)</text></g>
<g><rect x="161" y="336.4" width="97" height="74.6" fill="none" stroke="#c4c4c4" stroke-width="0.6"/><path d="M181 411v-1.2M181 336.4v1.2" stroke="#c4c4c4" stroke-width="0.5"/><text x="0" y="0" transform="translate(181 416.9) skewX(0.3)" font-size="4.9" fill="#111" text-anchor="middle" style="font-family:'Liberation Sans',sans-serif;stroke:#222;stroke-width:0.12px">100</text><path d="M201 411v-1.2M201 336.4v1.2" stroke="#c4c4c4" stroke-width="0.5"/><text x="0" y="0" transform="translate(201 416.9) skewX(0.3)" font-size="4.9" fill="#111" text-anchor="middle" style="font-family:'Liberation Sans',sans-serif;stroke:#222;stroke-width:0.12px">200</text><path d="M221 411v-1.2M221 336.4v1.2" stroke="#c4c4c4" stroke-width="0.5"/><text x="0" y="0" transform="translate(221 416.9) skewX(0.3)" font-size="4.9" fill="#111" text-anchor="middle" style="font-family:'Liberation Sans',sans-serif;stroke:#222;stroke-width:0.12px">300</text><path d="M241 411v-1.2M241 336.4v1.2" stroke="#c4c4c4" stroke-width="0.5"/><text x="0" y="0" transform="translate(241 416.9) skewX(0.3)" font-size="4.9" fill="#111" text-anchor="middle" style="font-family:'Liberation Sans',sans-serif;stroke:#222;stroke-width:0.12px">400</text><path d="M161 350h1.2M258 350h-1.2" stroke="#c4c4c4" stroke-width="0.5"/><text x="0" y="0" transform="translate(159.8 351.5) skewX(0.3)" font-size="4.8" fill="#111" text-anchor="end" style="font-family:'Liberation Sans',sans-serif;stroke:#222;stroke-width:0.12px">10<tspan font-size="3.2" dy="-2">0</tspan></text><path d="M161 373h1.2M258 373h-1.2" stroke="#c4c4c4" stroke-width="0.5"/><text x="0" y="0" transform="translate(159.8 374.5) skewX(0.3)" font-size="4.8" fill="#111" text-anchor="end" style="font-family:'Liberation Sans',sans-serif;stroke:#222;stroke-width:0.12px">10<tspan font-size="3.2" dy="-2">-5</tspan></text><path d="M161 396h1.2M258 396h-1.2" stroke="#c4c4c4" stroke-width="0.5"/><text x="0" y="0" transform="translate(159.8 397.5) skewX(0.3)" font-size="4.8" fill="#111" text-anchor="end" style="font-family:'Liberation Sans',sans-serif;stroke:#222;stroke-width:0.12px">10<tspan font-size="3.2" dy="-2">-10</tspan></text><text x="0" y="0" transform="translate(208 334.4) skewX(0.3)" font-size="5.4" fill="#222" text-anchor="middle" style="font-family:'Liberation Sans',sans-serif;stroke:#222;stroke-width:0.12px">f11</text><text x="0" y="0" transform="translate(209.5 424.2) skewX(0.3)" font-size="4.9" fill="#111" text-anchor="middle" style="font-family:'Liberation Sans',sans-serif;stroke:#222;stroke-width:0.12px">Number of iteration</text><text x="0" y="0" font-size="4.9" fill="#111" text-anchor="middle" style="font-family:'Liberation Sans',sans-serif;stroke:#222;stroke-width:0.12px" transform="translate(146.7 374) rotate(-90) skewX(0.3)">Optimal value</text><polyline points="161,354 165,402" fill="none" stroke="#1a1a1a" stroke-width="0.55"/><rect x="160.05" y="353.05" width="1.9" height="1.9" fill="#1a1a1a"/><rect x="164.05" y="401.05" width="1.9" height="1.9" fill="#1a1a1a"/><polyline points="161,337 210,337 220,340 230,348 238,355.6 248,358 258,359" fill="none" stroke="#ff2bff" stroke-width="1.0"/><path d="M161 335.5l1.55 1.5l-1.55 1.5l-1.55 -1.5z" fill="#ff2bff"/><path d="M165.1 335.5l1.55 1.5l-1.55 1.5l-1.55 -1.5z" fill="#ff2bff"/><path d="M169.2 335.5l1.55 1.5l-1.55 1.5l-1.55 -1.5z" fill="#ff2bff"/><path d="M173.3 335.5l1.55 1.5l-1.55 1.5l-1.55 -1.5z" fill="#ff2bff"/><path d="M177.4 335.5l1.55 1.5l-1.55 1.5l-1.55 -1.5z" fill="#ff2bff"/><path d="M181.5 335.5l1.55 1.5l-1.55 1.5l-1.55 -1.5z" fill="#ff2bff"/><path d="M185.6 335.5l1.55 1.5l-1.55 1.5l-1.55 -1.5z" fill="#ff2bff"/><path d="M189.7 335.5l1.55 1.5l-1.55 1.5l-1.55 -1.5z" fill="#ff2bff"/><path d="M193.8 335.5l1.55 1.5l-1.55 1.5l-1.55 -1.5z" fill="#ff2bff"/><path d="M197.9 335.5l1.55 1.5l-1.55 1.5l-1.55 -1.5z" fill="#ff2bff"/><path d="M202 335.5l1.55 1.5l-1.55 1.5l-1.55 -1.5z" fill="#ff2bff"/><path d="M206.1 335.5l1.55 1.5l-1.55 1.5l-1.55 -1.5z" fill="#ff2bff"/><path d="M210.2 335.56l1.55 1.5l-1.55 1.5l-1.55 -1.5z" fill="#ff2bff"/><path d="M214.3 336.79l1.55 1.5l-1.55 1.5l-1.55 -1.5z" fill="#ff2bff"/><path d="M218.4 338.02l1.55 1.5l-1.55 1.5l-1.55 -1.5z" fill="#ff2bff"/><path d="M222.5 340.5l1.55 1.5l-1.55 1.5l-1.55 -1.5z" fill="#ff2bff"/><path d="M226.6 343.78l1.55 1.5l-1.55 1.5l-1.55 -1.5z" fill="#ff2bff"/><path d="M230.7 347.16l1.55 1.5l-1.55 1.5l-1.55 -1.5z" fill="#ff2bff"/><path d="M234.8 351.06l1.55 1.5l-1.55 1.5l-1.55 -1.5z" fill="#ff2bff"/><path d="M238.9 354.32l1.55 1.5l-1.55 1.5l-1.55 -1.5z" fill="#ff2bff"/><path d="M243 355.3l1.55 1.5l-1.55 1.5l-1.55 -1.5z" fill="#ff2bff"/><path d="M247.1 356.28l1.55 1.5l-1.55 1.5l-1.55 -1.5z" fill="#ff2bff"/><path d="M251.2 356.82l1.55 1.5l-1.55 1.5l-1.55 -1.5z" fill="#ff2bff"/><path d="M255.3 357.23l1.55 1.5l-1.55 1.5l-1.55 -1.5z" fill="#ff2bff"/><polyline points="164,339 169,340.5 178,344 186,349.2 221,349.3 236,352.2 258,354.8" fill="none" stroke="#8a8aff" stroke-width="1.0" stroke-dasharray="2.4 1.5"/><polyline points="165,345 210,345 213,349 221,349 225,382" fill="none" stroke="#22eef2" stroke-width="1.0"/><path d="M165.1 343.35l1.65 2.8h-3.3z" fill="#22eef2"/><path d="M169.2 343.35l1.65 2.8h-3.3z" fill="#22eef2"/><path d="M173.3 343.35l1.65 2.8h-3.3z" fill="#22eef2"/><path d="M177.4 343.35l1.65 2.8h-3.3z" fill="#22eef2"/><path d="M181.5 343.35l1.65 2.8h-3.3z" fill="#22eef2"/><path d="M185.6 343.35l1.65 2.8h-3.3z" fill="#22eef2"/><path d="M189.7 343.35l1.65 2.8h-3.3z" fill="#22eef2"/><path d="M193.8 343.35l1.65 2.8h-3.3z" fill="#22eef2"/><path d="M197.9 343.35l1.65 2.8h-3.3z" fill="#22eef2"/><path d="M202 343.35l1.65 2.8h-3.3z" fill="#22eef2"/><path d="M206.1 343.35l1.65 2.8h-3.3z" fill="#22eef2"/><path d="M210.2 343.62l1.65 2.8h-3.3z" fill="#22eef2"/><path d="M214.3 347.35l1.65 2.8h-3.3z" fill="#22eef2"/><path d="M218.4 347.35l1.65 2.8h-3.3z" fill="#22eef2"/><path d="M222.5 359.72l1.65 2.8h-3.3z" fill="#22eef2"/><path d="M225 380.35l1.65 2.8h-3.3z" fill="#22eef2"/><polyline points="161,337 169,349 173,355 177,357 181,363 185,366 189,378 193,394 197,411" fill="none" stroke="#ff5050" stroke-width="1.0"/><circle cx="161" cy="337" r="1.32" fill="#ff5050"/><circle cx="165.1" cy="343.15" r="1.32" fill="#ff5050"/><circle cx="169.2" cy="349.3" r="1.32" fill="#ff5050"/><circle cx="173.3" cy="355.15" r="1.32" fill="#ff5050"/><circle cx="177.4" cy="357.6" r="1.32" fill="#ff5050"/><circle cx="181.5" cy="363.38" r="1.32" fill="#ff5050"/><circle cx="185.6" cy="367.8" r="1.32" fill="#ff5050"/><circle cx="189.7" cy="380.8" r="1.32" fill="#ff5050"/><circle cx="193.8" cy="397.4" r="1.32" fill="#ff5050"/><circle cx="197" cy="411" r="1.32" fill="#ff5050"/><rect x="227" y="383.6" width="28" height="24.8" fill="#fff" stroke="#c4c4c4" stroke-width="0.5"/><line x1="228.2" y1="386.08" x2="234.5" y2="386.08" stroke="#1a1a1a" stroke-width="0.7"/><rect x="230.4" y="385.13" width="1.9" height="1.9" fill="#1a1a1a"/><text x="0" y="0" transform="translate(235.7 387.68) scale(0.82 1) skewX(0.3)" font-size="4.4" fill="#222" style="font-family:'Liberation Sans',sans-serif;stroke:#444;stroke-width:0.22px">TRS-CHOA</text><line x1="228.2" y1="391.04" x2="234.5" y2="391.04" stroke="#ff2bff" stroke-width="0.7"/><path d="M231.35 389.69l1.4 1.35l-1.4 1.35l-1.4 -1.35z" fill="#ff2bff"/><text x="0" y="0" transform="translate(235.7 392.64) scale(0.82 1) skewX(0.3)" font-size="4.4" fill="#222" style="font-family:'Liberation Sans',sans-serif;stroke:#444;stroke-width:0.22px">CHOA</text><line x1="228.2" y1="396" x2="234.5" y2="396" stroke="#8a8aff" stroke-width="0.7" stroke-dasharray="1.6 1.4"/><text x="0" y="0" transform="translate(235.7 397.6) scale(0.82 1) skewX(0.3)" font-size="4.4" fill="#222" style="font-family:'Liberation Sans',sans-serif;stroke:#444;stroke-width:0.22px">TCHOA</text><line x1="228.2" y1="400.96" x2="234.5" y2="400.96" stroke="#22eef2" stroke-width="0.7"/><path d="M231.35 399.47l1.48 2.52h-2.97z" fill="#22eef2"/><text x="0" y="0" transform="translate(235.7 402.56) scale(0.82 1) skewX(0.3)" font-size="4.4" fill="#222" style="font-family:'Liberation Sans',sans-serif;stroke:#444;stroke-width:0.22px">RCHOA</text><line x1="228.2" y1="405.92" x2="234.5" y2="405.92" stroke="#ff5050" stroke-width="0.7"/><circle cx="231.35" cy="405.92" r="1.19" fill="#ff5050"/><text x="0" y="0" transform="translate(235.7 407.52) scale(0.82 1) skewX(0.3)" font-size="4.4" fill="#222" style="font-family:'Liberation Sans',sans-serif;stroke:#444;stroke-width:0.22px">SCHOA</text><text x="0" y="0" transform="translate(204 435.4) skewX(0.3)" font-size="8.0" fill="#111" text-anchor="middle" font-weight="bold" style="font-family:'Liberation Serif',serif">(<tspan font-size="9">k</tspan>)</text></g>
<g><rect x="294.4" y="335" width="101.2" height="76.4" fill="none" stroke="#c4c4c4" stroke-width="0.6"/><path d="M316 411.4v-1.2M316 335v1.2" stroke="#c4c4c4" stroke-width="0.5"/><text x="0" y="0" transform="translate(316 417.3) skewX(0.3)" font-size="4.9" fill="#111" text-anchor="middle" style="font-family:'Liberation Sans',sans-serif;stroke:#222;stroke-width:0.12px">100</text><path d="M336.5 411.4v-1.2M336.5 335v1.2" stroke="#c4c4c4" stroke-width="0.5"/><text x="0" y="0" transform="translate(336.5 417.3) skewX(0.3)" font-size="4.9" fill="#111" text-anchor="middle" style="font-family:'Liberation Sans',sans-serif;stroke:#222;stroke-width:0.12px">200</text><path d="M356 411.4v-1.2M356 335v1.2" stroke="#c4c4c4" stroke-width="0.5"/><text x="0" y="0" transform="translate(356 417.3) skewX(0.3)" font-size="4.9" fill="#111" text-anchor="middle" style="font-family:'Liberation Sans',sans-serif;stroke:#222;stroke-width:0.12px">300</text><path d="M378 411.4v-1.2M378 335v1.2" stroke="#c4c4c4" stroke-width="0.5"/><text x="0" y="0" transform="translate(378 417.3) skewX(0.3)" font-size="4.9" fill="#111" text-anchor="middle" style="font-family:'Liberation Sans',sans-serif;stroke:#222;stroke-width:0.12px">400</text><path d="M294.4 351h1.2M395.6 351h-1.2" stroke="#c4c4c4" stroke-width="0.5"/><text x="0" y="0" transform="translate(293.2 352.5) skewX(0.3)" font-size="4.8" fill="#111" text-anchor="end" style="font-family:'Liberation Sans',sans-serif;stroke:#222;stroke-width:0.12px">10<tspan font-size="3.2" dy="-2">5</tspan></text><path d="M294.4 372h1.2M395.6 372h-1.2" stroke="#c4c4c4" stroke-width="0.5"/><text x="0" y="0" transform="translate(293.2 373.5) skewX(0.3)" font-size="4.8" fill="#111" text-anchor="end" style="font-family:'Liberation Sans',sans-serif;stroke:#222;stroke-width:0.12px">10<tspan font-size="3.2" dy="-2">0</tspan></text><path d="M294.4 393h1.2M395.6 393h-1.2" stroke="#c4c4c4" stroke-width="0.5"/><text x="0" y="0" transform="translate(293.2 394.5) skewX(0.3)" font-size="4.8" fill="#111" text-anchor="end" style="font-family:'Liberation Sans',sans-serif;stroke:#222;stroke-width:0.12px">10<tspan font-size="3.2" dy="-2">-5</tspan></text><text x="0" y="0" transform="translate(345 334) skewX(0.3)" font-size="5.4" fill="#222" text-anchor="middle" style="font-family:'Liberation Sans',sans-serif;stroke:#222;stroke-width:0.12px">f12</text><text x="0" y="0" transform="translate(345 425.1) skewX(0.3)" font-size="4.9" fill="#111" text-anchor="middle" style="font-family:'Liberation Sans',sans-serif;stroke:#222;stroke-width:0.12px">Number of iteration</text><text x="0" y="0" font-size="4.9" fill="#111" text-anchor="middle" style="font-family:'Liberation Sans',sans-serif;stroke:#222;stroke-width:0.12px" transform="translate(281.7 374) rotate(-90) skewX(0.3)">Optimal value</text><polyline points="294.4,376 298.6,386.4 303,389 307.4,408.4 311.6,411 395.6,411" fill="none" stroke="#1a1a1a" stroke-width="0.55"/><rect x="293.45" y="375.05" width="1.9" height="1.9" fill="#1a1a1a"/><rect x="297.55" y="385.2" width="1.9" height="1.9" fill="#1a1a1a"/><rect x="301.65" y="387.81" width="1.9" height="1.9" fill="#1a1a1a"/><rect x="305.75" y="404.36" width="1.9" height="1.9" fill="#1a1a1a"/><rect x="309.85" y="409.55" width="1.9" height="1.9" fill="#1a1a1a"/><rect x="313.95" y="410.05" width="1.9" height="1.9" fill="#1a1a1a"/><rect x="318.05" y="410.05" width="1.9" height="1.9" fill="#1a1a1a"/><rect x="322.15" y="410.05" width="1.9" height="1.9" fill="#1a1a1a"/><rect x="326.25" y="410.05" width="1.9" height="1.9" fill="#1a1a1a"/><rect x="330.35" y="410.05" width="1.9" height="1.9" fill="#1a1a1a"/><rect x="334.45" y="410.05" width="1.9" height="1.9" fill="#1a1a1a"/><rect x="338.55" y="410.05" width="1.9" height="1.9" fill="#1a1a1a"/><rect x="342.65" y="410.05" width="1.9" height="1.9" fill="#1a1a1a"/><rect x="346.75" y="410.05" width="1.9" height="1.9" fill="#1a1a1a"/><rect x="350.85" y="410.05" width="1.9" height="1.9" fill="#1a1a1a"/><rect x="354.95" y="410.05" width="1.9" height="1.9" fill="#1a1a1a"/><rect x="359.05" y="410.05" width="1.9" height="1.9" fill="#1a1a1a"/><rect x="363.15" y="410.05" width="1.9" height="1.9" fill="#1a1a1a"/><rect x="367.25" y="410.05" width="1.9" height="1.9" fill="#1a1a1a"/><rect x="371.35" y="410.05" width="1.9" height="1.9" fill="#1a1a1a"/><rect x="375.45" y="410.05" width="1.9" height="1.9" fill="#1a1a1a"/><rect x="379.55" y="410.05" width="1.9" height="1.9" fill="#1a1a1a"/><rect x="383.65" y="410.05" width="1.9" height="1.9" fill="#1a1a1a"/><rect x="387.75" y="410.05" width="1.9" height="1.9" fill="#1a1a1a"/><rect x="391.85" y="410.05" width="1.9" height="1.9" fill="#1a1a1a"/><polyline points="294.4,336.5 352,336.5 357.2,338.2 361.5,343.6 363.2,353.8 364.9,367.4 366.6,370.8 370.8,373.4 395.6,373.6" fill="none" stroke="#ff2bff" stroke-width="1.0"/><path d="M294.4 335l1.55 1.5l-1.55 1.5l-1.55 -1.5z" fill="#ff2bff"/><path d="M298.5 335l1.55 1.5l-1.55 1.5l-1.55 -1.5z" fill="#ff2bff"/><path d="M302.6 335l1.55 1.5l-1.55 1.5l-1.55 -1.5z" fill="#ff2bff"/><path d="M306.7 335l1.55 1.5l-1.55 1.5l-1.55 -1.5z" fill="#ff2bff"/><path d="M310.8 335l1.55 1.5l-1.55 1.5l-1.55 -1.5z" fill="#ff2bff"/><path d="M314.9 335l1.55 1.5l-1.55 1.5l-1.55 -1.5z" fill="#ff2bff"/><path d="M319 335l1.55 1.5l-1.55 1.5l-1.55 -1.5z" fill="#ff2bff"/><path d="M323.1 335l1.55 1.5l-1.55 1.5l-1.55 -1.5z" fill="#ff2bff"/><path d="M327.2 335l1.55 1.5l-1.55 1.5l-1.55 -1.5z" fill="#ff2bff"/><path d="M331.3 335l1.55 1.5l-1.55 1.5l-1.55 -1.5z" fill="#ff2bff"/><path d="M335.4 335l1.55 1.5l-1.55 1.5l-1.55 -1.5z" fill="#ff2bff"/><path d="M339.5 335l1.55 1.5l-1.55 1.5l-1.55 -1.5z" fill="#ff2bff"/><path d="M343.6 335l1.55 1.5l-1.55 1.5l-1.55 -1.5z" fill="#ff2bff"/><path d="M347.7 335l1.55 1.5l-1.55 1.5l-1.55 -1.5z" fill="#ff2bff"/><path d="M351.8 335l1.55 1.5l-1.55 1.5l-1.55 -1.5z" fill="#ff2bff"/><path d="M355.9 336.28l1.55 1.5l-1.55 1.5l-1.55 -1.5z" fill="#ff2bff"/><path d="M360 340.22l1.55 1.5l-1.55 1.5l-1.55 -1.5z" fill="#ff2bff"/><path d="M364.1 359.5l1.55 1.5l-1.55 1.5l-1.55 -1.5z" fill="#ff2bff"/><path d="M368.2 370.29l1.55 1.5l-1.55 1.5l-1.55 -1.5z" fill="#ff2bff"/><path d="M372.3 371.91l1.55 1.5l-1.55 1.5l-1.55 -1.5z" fill="#ff2bff"/><path d="M376.4 371.95l1.55 1.5l-1.55 1.5l-1.55 -1.5z" fill="#ff2bff"/><path d="M380.5 371.98l1.55 1.5l-1.55 1.5l-1.55 -1.5z" fill="#ff2bff"/><path d="M384.6 372.01l1.55 1.5l-1.55 1.5l-1.55 -1.5z" fill="#ff2bff"/><path d="M388.7 372.04l1.55 1.5l-1.55 1.5l-1.55 -1.5z" fill="#ff2bff"/><path d="M392.8 372.08l1.55 1.5l-1.55 1.5l-1.55 -1.5z" fill="#ff2bff"/><polyline points="299,348 303,351 307,364 314,366 340,367.4 395.6,368" fill="none" stroke="#8a8aff" stroke-width="1.0" stroke-dasharray="2.4 1.5"/><polyline points="294.4,336.5 334,336.5 336.8,338.6 341,338.6 344.5,371.7 366.6,371.7 370.8,373.6 395.6,376" fill="none" stroke="#22eef2" stroke-width="1.0"/><path d="M294.4 334.85l1.65 2.8h-3.3z" fill="#22eef2"/><path d="M298.5 334.85l1.65 2.8h-3.3z" fill="#22eef2"/><path d="M302.6 334.85l1.65 2.8h-3.3z" fill="#22eef2"/><path d="M306.7 334.85l1.65 2.8h-3.3z" fill="#22eef2"/><path d="M310.8 334.85l1.65 2.8h-3.3z" fill="#22eef2"/><path d="M314.9 334.85l1.65 2.8h-3.3z" fill="#22eef2"/><path d="M319 334.85l1.65 2.8h-3.3z" fill="#22eef2"/><path d="M323.1 334.85l1.65 2.8h-3.3z" fill="#22eef2"/><path d="M327.2 334.85l1.65 2.8h-3.3z" fill="#22eef2"/><path d="M331.3 334.85l1.65 2.8h-3.3z" fill="#22eef2"/><path d="M335.4 335.9l1.65 2.8h-3.3z" fill="#22eef2"/><path d="M339.5 336.95l1.65 2.8h-3.3z" fill="#22eef2"/><path d="M343.6 361.54l1.65 2.8h-3.3z" fill="#22eef2"/><path d="M347.7 370.05l1.65 2.8h-3.3z" fill="#22eef2"/><path d="M351.8 370.05l1.65 2.8h-3.3z" fill="#22eef2"/><path d="M355.9 370.05l1.65 2.8h-3.3z" fill="#22eef2"/><path d="M360 370.05l1.65 2.8h-3.3z" fill="#22eef2"/><path d="M364.1 370.05l1.65 2.8h-3.3z" fill="#22eef2"/><path d="M368.2 370.77l1.65 2.8h-3.3z" fill="#22eef2"/><path d="M372.3 372.1l1.65 2.8h-3.3z" fill="#22eef2"/><path d="M376.4 372.49l1.65 2.8h-3.3z" fill="#22eef2"/><path d="M380.5 372.89l1.65 2.8h-3.3z" fill="#22eef2"/><path d="M384.6 373.29l1.65 2.8h-3.3z" fill="#22eef2"/><path d="M388.7 373.68l1.65 2.8h-3.3z" fill="#22eef2"/><path d="M392.8 374.08l1.65 2.8h-3.3z" fill="#22eef2"/><polyline points="294.4,336.5 298.6,363.6 303,365 307,369 311,375 316,377 330,378 395.6,378" fill="none" stroke="#ff5050" stroke-width="1.0"/><circle cx="294.4" cy="336.5" r="1.32" fill="#ff5050"/><circle cx="298.5" cy="362.95" r="1.32" fill="#ff5050"/><circle cx="302.6" cy="364.87" r="1.32" fill="#ff5050"/><circle cx="306.7" cy="368.7" r="1.32" fill="#ff5050"/><circle cx="310.8" cy="374.7" r="1.32" fill="#ff5050"/><circle cx="314.9" cy="376.56" r="1.32" fill="#ff5050"/><circle cx="319" cy="377.21" r="1.32" fill="#ff5050"/><circle cx="323.1" cy="377.51" r="1.32" fill="#ff5050"/><circle cx="327.2" cy="377.8" r="1.32" fill="#ff5050"/><circle cx="331.3" cy="378" r="1.32" fill="#ff5050"/><circle cx="335.4" cy="378" r="1.32" fill="#ff5050"/><circle cx="339.5" cy="378" r="1.32" fill="#ff5050"/><circle cx="343.6" cy="378" r="1.32" fill="#ff5050"/><circle cx="347.7" cy="378" r="1.32" fill="#ff5050"/><circle cx="351.8" cy="378" r="1.32" fill="#ff5050"/><circle cx="355.9" cy="378" r="1.32" fill="#ff5050"/><circle cx="360" cy="378" r="1.32" fill="#ff5050"/><circle cx="364.1" cy="378" r="1.32" fill="#ff5050"/><circle cx="368.2" cy="378" r="1.32" fill="#ff5050"/><circle cx="372.3" cy="378" r="1.32" fill="#ff5050"/><circle cx="376.4" cy="378" r="1.32" fill="#ff5050"/><circle cx="380.5" cy="378" r="1.32" fill="#ff5050"/><circle cx="384.6" cy="378" r="1.32" fill="#ff5050"/><circle cx="388.7" cy="378" r="1.32" fill="#ff5050"/><circle cx="392.8" cy="378" r="1.32" fill="#ff5050"/><rect x="365.6" y="337" width="29.4" height="25.4" fill="#fff" stroke="#c4c4c4" stroke-width="0.5"/><line x1="366.8" y1="339.54" x2="373.1" y2="339.54" stroke="#1a1a1a" stroke-width="0.7"/><rect x="369" y="338.59" width="1.9" height="1.9" fill="#1a1a1a"/><text x="0" y="0" transform="translate(374.3 341.14) scale(0.82 1) skewX(0.3)" font-size="4.4" fill="#222" style="font-family:'Liberation Sans',sans-serif;stroke:#444;stroke-width:0.22px">TRS-CHOA</text><line x1="366.8" y1="344.62" x2="373.1" y2="344.62" stroke="#ff2bff" stroke-width="0.7"/><path d="M369.95 343.27l1.4 1.35l-1.4 1.35l-1.4 -1.35z" fill="#ff2bff"/><text x="0" y="0" transform="translate(374.3 346.22) scale(0.82 1) skewX(0.3)" font-size="4.4" fill="#222" style="font-family:'Liberation Sans',sans-serif;stroke:#444;stroke-width:0.22px">CHOA</text><line x1="366.8" y1="349.7" x2="373.1" y2="349.7" stroke="#8a8aff" stroke-width="0.7" stroke-dasharray="1.6 1.4"/><text x="0" y="0" transform="translate(374.3 351.3) scale(0.82 1) skewX(0.3)" font-size="4.4" fill="#222" style="font-family:'Liberation Sans',sans-serif;stroke:#444;stroke-width:0.22px">TCHOA</text><line x1="366.8" y1="354.78" x2="373.1" y2="354.78" stroke="#22eef2" stroke-width="0.7"/><path d="M369.95 353.29l1.48 2.52h-2.97z" fill="#22eef2"/><text x="0" y="0" transform="translate(374.3 356.38) scale(0.82 1) skewX(0.3)" font-size="4.4" fill="#222" style="font-family:'Liberation Sans',sans-serif;stroke:#444;stroke-width:0.22px">RCHOA</text><line x1="366.8" y1="359.86" x2="373.1" y2="359.86" stroke="#ff5050" stroke-width="0.7"/><circle cx="369.95" cy="359.86" r="1.19" fill="#ff5050"/><text x="0" y="0" transform="translate(374.3 361.46) scale(0.82 1) skewX(0.3)" font-size="4.4" fill="#222" style="font-family:'Liberation Sans',sans-serif;stroke:#444;stroke-width:0.22px">SCHOA</text><text x="0" y="0" transform="translate(341 435.4) skewX(0.3)" font-size="8.0" fill="#111" text-anchor="middle" font-weight="bold" style="font-family:'Liberation Serif',serif">(<tspan font-size="8.5">l</tspan>)</text></g>
<g><rect x="18.1" y="445.3" width="104.5" height="78.1" fill="none" stroke="#c4c4c4" stroke-width="0.6"/><path d="M39.2 523.4v-1.2M39.2 445.3v1.2" stroke="#c4c4c4" stroke-width="0.5"/><text x="0" y="0" transform="translate(39.2 530.8) skewX(0.3)" font-size="4.9" fill="#111" text-anchor="middle" style="font-family:'Liberation Sans',sans-serif;stroke:#222;stroke-width:0.12px">100</text><path d="M61.5 523.4v-1.2M61.5 445.3v1.2" stroke="#c4c4c4" stroke-width="0.5"/><text x="0" y="0" transform="translate(61.5 530.8) skewX(0.3)" font-size="4.9" fill="#111" text-anchor="middle" style="font-family:'Liberation Sans',sans-serif;stroke:#222;stroke-width:0.12px">200</text><path d="M82.7 523.4v-1.2M82.7 445.3v1.2" stroke="#c4c4c4" stroke-width="0.5"/><text x="0" y="0" transform="translate(82.7 530.8) skewX(0.3)" font-size="4.9" fill="#111" text-anchor="middle" style="font-family:'Liberation Sans',sans-serif;stroke:#222;stroke-width:0.12px">300</text><path d="M104.5 523.4v-1.2M104.5 445.3v1.2" stroke="#c4c4c4" stroke-width="0.5"/><text x="0" y="0" transform="translate(104.5 530.8) skewX(0.3)" font-size="4.9" fill="#111" text-anchor="middle" style="font-family:'Liberation Sans',sans-serif;stroke:#222;stroke-width:0.12px">400</text><path d="M18.1 465h1.2M122.6 465h-1.2" stroke="#c4c4c4" stroke-width="0.5"/><text x="0" y="0" transform="translate(16.9 467.5) skewX(0.3)" font-size="4.8" fill="#111" text-anchor="end" style="font-family:'Liberation Sans',sans-serif;stroke:#222;stroke-width:0.12px">10<tspan font-size="3.2" dy="-2">5</tspan></text><path d="M18.1 487.8h1.2M122.6 487.8h-1.2" stroke="#c4c4c4" stroke-width="0.5"/><text x="0" y="0" transform="translate(16.9 490.3) skewX(0.3)" font-size="4.8" fill="#111" text-anchor="end" style="font-family:'Liberation Sans',sans-serif;stroke:#222;stroke-width:0.12px">10<tspan font-size="3.2" dy="-2">0</tspan></text><path d="M18.1 510.7h1.2M122.6 510.7h-1.2" stroke="#c4c4c4" stroke-width="0.5"/><text x="0" y="0" transform="translate(16.9 513.2) skewX(0.3)" font-size="4.8" fill="#111" text-anchor="end" style="font-family:'Liberation Sans',sans-serif;stroke:#222;stroke-width:0.12px">10<tspan font-size="3.2" dy="-2">-5</tspan></text><text x="0" y="0" transform="translate(70.8 442.5) skewX(0.3)" font-size="5.4" fill="#222" text-anchor="middle" style="font-family:'Liberation Sans',sans-serif;stroke:#222;stroke-width:0.12px">f13</text><text x="0" y="0" transform="translate(70.35 536.6) skewX(0.3)" font-size="4.9" fill="#111" text-anchor="middle" style="font-family:'Liberation Sans',sans-serif;stroke:#222;stroke-width:0.12px">Number of iteration</text><text x="0" y="0" font-size="4.9" fill="#111" text-anchor="middle" style="font-family:'Liberation Sans',sans-serif;stroke:#222;stroke-width:0.12px" transform="translate(6.1 484.5) rotate(-90) skewX(0.3)">Optimal value</text><polyline points="18.1,490 22.9,507 40.3,507 49,509.6 57.8,509.6 61.5,523.4 122.6,523.4" fill="none" stroke="#1a1a1a" stroke-width="0.55"/><rect x="17.15" y="489.05" width="1.9" height="1.9" fill="#1a1a1a"/><rect x="21.25" y="503.57" width="1.9" height="1.9" fill="#1a1a1a"/><rect x="25.35" y="506.05" width="1.9" height="1.9" fill="#1a1a1a"/><rect x="29.45" y="506.05" width="1.9" height="1.9" fill="#1a1a1a"/><rect x="33.55" y="506.05" width="1.9" height="1.9" fill="#1a1a1a"/><rect x="37.65" y="506.05" width="1.9" height="1.9" fill="#1a1a1a"/><rect x="41.75" y="506.77" width="1.9" height="1.9" fill="#1a1a1a"/><rect x="45.85" y="507.99" width="1.9" height="1.9" fill="#1a1a1a"/><rect x="49.95" y="508.65" width="1.9" height="1.9" fill="#1a1a1a"/><rect x="54.05" y="508.65" width="1.9" height="1.9" fill="#1a1a1a"/><rect x="58.15" y="513.5" width="1.9" height="1.9" fill="#1a1a1a"/><rect x="62.25" y="522.45" width="1.9" height="1.9" fill="#1a1a1a"/><rect x="66.35" y="522.45" width="1.9" height="1.9" fill="#1a1a1a"/><rect x="70.45" y="522.45" width="1.9" height="1.9" fill="#1a1a1a"/><rect x="74.55" y="522.45" width="1.9" height="1.9" fill="#1a1a1a"/><rect x="78.65" y="522.45" width="1.9" height="1.9" fill="#1a1a1a"/><rect x="82.75" y="522.45" width="1.9" height="1.9" fill="#1a1a1a"/><rect x="86.85" y="522.45" width="1.9" height="1.9" fill="#1a1a1a"/><rect x="90.95" y="522.45" width="1.9" height="1.9" fill="#1a1a1a"/><rect x="95.05" y="522.45" width="1.9" height="1.9" fill="#1a1a1a"/><rect x="99.15" y="522.45" width="1.9" height="1.9" fill="#1a1a1a"/><rect x="103.25" y="522.45" width="1.9" height="1.9" fill="#1a1a1a"/><rect x="107.35" y="522.45" width="1.9" height="1.9" fill="#1a1a1a"/><rect x="111.45" y="522.45" width="1.9" height="1.9" fill="#1a1a1a"/><rect x="115.55" y="522.45" width="1.9" height="1.9" fill="#1a1a1a"/><rect x="119.65" y="522.45" width="1.9" height="1.9" fill="#1a1a1a"/><polyline points="18.1,445.3 78.3,445.3 83.8,448.5 88.1,455 90.3,467 91.4,480.2 95.8,484 102.3,485.6 122.6,485.6" fill="none" stroke="#ff2bff" stroke-width="1.0"/><path d="M18.1 443.8l1.55 1.5l-1.55 1.5l-1.55 -1.5z" fill="#ff2bff"/><path d="M22.2 443.8l1.55 1.5l-1.55 1.5l-1.55 -1.5z" fill="#ff2bff"/><path d="M26.3 443.8l1.55 1.5l-1.55 1.5l-1.55 -1.5z" fill="#ff2bff"/><path d="M30.4 443.8l1.55 1.5l-1.55 1.5l-1.55 -1.5z" fill="#ff2bff"/><path d="M34.5 443.8l1.55 1.5l-1.55 1.5l-1.55 -1.5z" fill="#ff2bff"/><path d="M38.6 443.8l1.55 1.5l-1.55 1.5l-1.55 -1.5z" fill="#ff2bff"/><path d="M42.7 443.8l1.55 1.5l-1.55 1.5l-1.55 -1.5z" fill="#ff2bff"/><path d="M46.8 443.8l1.55 1.5l-1.55 1.5l-1.55 -1.5z" fill="#ff2bff"/><path d="M50.9 443.8l1.55 1.5l-1.55 1.5l-1.55 -1.5z" fill="#ff2bff"/><path d="M55 443.8l1.55 1.5l-1.55 1.5l-1.55 -1.5z" fill="#ff2bff"/><path d="M59.1 443.8l1.55 1.5l-1.55 1.5l-1.55 -1.5z" fill="#ff2bff"/><path d="M63.2 443.8l1.55 1.5l-1.55 1.5l-1.55 -1.5z" fill="#ff2bff"/><path d="M67.3 443.8l1.55 1.5l-1.55 1.5l-1.55 -1.5z" fill="#ff2bff"/><path d="M71.4 443.8l1.55 1.5l-1.55 1.5l-1.55 -1.5z" fill="#ff2bff"/><path d="M75.5 443.8l1.55 1.5l-1.55 1.5l-1.55 -1.5z" fill="#ff2bff"/><path d="M79.6 444.56l1.55 1.5l-1.55 1.5l-1.55 -1.5z" fill="#ff2bff"/><path d="M83.7 446.94l1.55 1.5l-1.55 1.5l-1.55 -1.5z" fill="#ff2bff"/><path d="M87.8 453.05l1.55 1.5l-1.55 1.5l-1.55 -1.5z" fill="#ff2bff"/><path d="M91.9 479.13l1.55 1.5l-1.55 1.5l-1.55 -1.5z" fill="#ff2bff"/><path d="M96 482.55l1.55 1.5l-1.55 1.5l-1.55 -1.5z" fill="#ff2bff"/><path d="M100.1 483.56l1.55 1.5l-1.55 1.5l-1.55 -1.5z" fill="#ff2bff"/><path d="M104.2 484.1l1.55 1.5l-1.55 1.5l-1.55 -1.5z" fill="#ff2bff"/><path d="M108.3 484.1l1.55 1.5l-1.55 1.5l-1.55 -1.5z" fill="#ff2bff"/><path d="M112.4 484.1l1.55 1.5l-1.55 1.5l-1.55 -1.5z" fill="#ff2bff"/><path d="M116.5 484.1l1.55 1.5l-1.55 1.5l-1.55 -1.5z" fill="#ff2bff"/><path d="M120.6 484.1l1.55 1.5l-1.55 1.5l-1.55 -1.5z" fill="#ff2bff"/><polyline points="21.8,450.7 28.3,454 34.9,461.6 40.3,470.4 48,475.8 60,478 122.6,479.7" fill="none" stroke="#8a8aff" stroke-width="1.0" stroke-dasharray="2.4 1.5"/><polyline points="18.1,445.3 40.3,445.3 43.6,477 79.4,477 82.7,484.5 122.6,485.6" fill="none" stroke="#22eef2" stroke-width="1.0"/><path d="M18.1 443.65l1.65 2.8h-3.3z" fill="#22eef2"/><path d="M22.2 443.65l1.65 2.8h-3.3z" fill="#22eef2"/><path d="M26.3 443.65l1.65 2.8h-3.3z" fill="#22eef2"/><path d="M30.4 443.65l1.65 2.8h-3.3z" fill="#22eef2"/><path d="M34.5 443.65l1.65 2.8h-3.3z" fill="#22eef2"/><path d="M38.6 443.65l1.65 2.8h-3.3z" fill="#22eef2"/><path d="M42.7 466.7l1.65 2.8h-3.3z" fill="#22eef2"/><path d="M46.8 475.35l1.65 2.8h-3.3z" fill="#22eef2"/><path d="M50.9 475.35l1.65 2.8h-3.3z" fill="#22eef2"/><path d="M55 475.35l1.65 2.8h-3.3z" fill="#22eef2"/><path d="M59.1 475.35l1.65 2.8h-3.3z" fill="#22eef2"/><path d="M63.2 475.35l1.65 2.8h-3.3z" fill="#22eef2"/><path d="M67.3 475.35l1.65 2.8h-3.3z" fill="#22eef2"/><path d="M71.4 475.35l1.65 2.8h-3.3z" fill="#22eef2"/><path d="M75.5 475.35l1.65 2.8h-3.3z" fill="#22eef2"/><path d="M79.6 475.8l1.65 2.8h-3.3z" fill="#22eef2"/><path d="M83.7 482.88l1.65 2.8h-3.3z" fill="#22eef2"/><path d="M87.8 482.99l1.65 2.8h-3.3z" fill="#22eef2"/><path d="M91.9 483.1l1.65 2.8h-3.3z" fill="#22eef2"/><path d="M96 483.22l1.65 2.8h-3.3z" fill="#22eef2"/><path d="M100.1 483.33l1.65 2.8h-3.3z" fill="#22eef2"/><path d="M104.2 483.44l1.65 2.8h-3.3z" fill="#22eef2"/><path d="M108.3 483.56l1.65 2.8h-3.3z" fill="#22eef2"/><path d="M112.4 483.67l1.65 2.8h-3.3z" fill="#22eef2"/><path d="M116.5 483.78l1.65 2.8h-3.3z" fill="#22eef2"/><path d="M120.6 483.89l1.65 2.8h-3.3z" fill="#22eef2"/><polyline points="18.1,445.3 22.9,465 27.2,482.4 31.6,487 36,488.5 50,489.3 122.6,489.3" fill="none" stroke="#ff5050" stroke-width="1.0"/><circle cx="18.1" cy="445.3" r="1.32" fill="#ff5050"/><circle cx="22.2" cy="462.13" r="1.32" fill="#ff5050"/><circle cx="26.3" cy="478.76" r="1.32" fill="#ff5050"/><circle cx="30.4" cy="485.75" r="1.32" fill="#ff5050"/><circle cx="34.5" cy="487.99" r="1.32" fill="#ff5050"/><circle cx="38.6" cy="488.65" r="1.32" fill="#ff5050"/><circle cx="42.7" cy="488.88" r="1.32" fill="#ff5050"/><circle cx="46.8" cy="489.12" r="1.32" fill="#ff5050"/><circle cx="50.9" cy="489.3" r="1.32" fill="#ff5050"/><circle cx="55" cy="489.3" r="1.32" fill="#ff5050"/><circle cx="59.1" cy="489.3" r="1.32" fill="#ff5050"/><circle cx="63.2" cy="489.3" r="1.32" fill="#ff5050"/><circle cx="67.3" cy="489.3" r="1.32" fill="#ff5050"/><circle cx="71.4" cy="489.3" r="1.32" fill="#ff5050"/><circle cx="75.5" cy="489.3" r="1.32" fill="#ff5050"/><circle cx="79.6" cy="489.3" r="1.32" fill="#ff5050"/><circle cx="83.7" cy="489.3" r="1.32" fill="#ff5050"/><circle cx="87.8" cy="489.3" r="1.32" fill="#ff5050"/><circle cx="91.9" cy="489.3" r="1.32" fill="#ff5050"/><circle cx="96" cy="489.3" r="1.32" fill="#ff5050"/><circle cx="100.1" cy="489.3" r="1.32" fill="#ff5050"/><circle cx="104.2" cy="489.3" r="1.32" fill="#ff5050"/><circle cx="108.3" cy="489.3" r="1.32" fill="#ff5050"/><circle cx="112.4" cy="489.3" r="1.32" fill="#ff5050"/><circle cx="116.5" cy="489.3" r="1.32" fill="#ff5050"/><circle cx="120.6" cy="489.3" r="1.32" fill="#ff5050"/><rect x="91.4" y="447" width="30.6" height="26" fill="#fff" stroke="#c4c4c4" stroke-width="0.5"/><line x1="92.6" y1="449.6" x2="98.9" y2="449.6" stroke="#1a1a1a" stroke-width="0.7"/><rect x="94.8" y="448.65" width="1.9" height="1.9" fill="#1a1a1a"/><text x="0" y="0" transform="translate(100.1 451.2) scale(0.82 1) skewX(0.3)" font-size="4.4" fill="#222" style="font-family:'Liberation Sans',sans-serif;stroke:#444;stroke-width:0.22px">TRS-CHOA</text><line x1="92.6" y1="454.8" x2="98.9" y2="454.8" stroke="#ff2bff" stroke-width="0.7"/><path d="M95.75 453.45l1.4 1.35l-1.4 1.35l-1.4 -1.35z" fill="#ff2bff"/><text x="0" y="0" transform="translate(100.1 456.4) scale(0.82 1) skewX(0.3)" font-size="4.4" fill="#222" style="font-family:'Liberation Sans',sans-serif;stroke:#444;stroke-width:0.22px">CHOA</text><line x1="92.6" y1="460" x2="98.9" y2="460" stroke="#8a8aff" stroke-width="0.7" stroke-dasharray="1.6 1.4"/><text x="0" y="0" transform="translate(100.1 461.6) scale(0.82 1) skewX(0.3)" font-size="4.4" fill="#222" style="font-family:'Liberation Sans',sans-serif;stroke:#444;stroke-width:0.22px">TCHOA</text><line x1="92.6" y1="465.2" x2="98.9" y2="465.2" stroke="#22eef2" stroke-width="0.7"/><path d="M95.75 463.71l1.48 2.52h-2.97z" fill="#22eef2"/><text x="0" y="0" transform="translate(100.1 466.8) scale(0.82 1) skewX(0.3)" font-size="4.4" fill="#222" style="font-family:'Liberation Sans',sans-serif;stroke:#444;stroke-width:0.22px">RCHOA</text><line x1="92.6" y1="470.4" x2="98.9" y2="470.4" stroke="#ff5050" stroke-width="0.7"/><circle cx="95.75" cy="470.4" r="1.19" fill="#ff5050"/><text x="0" y="0" transform="translate(100.1 472) scale(0.82 1) skewX(0.3)" font-size="4.4" fill="#222" style="font-family:'Liberation Sans',sans-serif;stroke:#444;stroke-width:0.22px">SCHOA</text><text x="0" y="0" transform="translate(65 546.2) skewX(0.3)" font-size="8.0" fill="#111" text-anchor="middle" font-weight="bold" style="font-family:'Liberation Serif',serif">(<tspan font-size="8.8">m</tspan>)</text></g>
</svg>
</body></html>
